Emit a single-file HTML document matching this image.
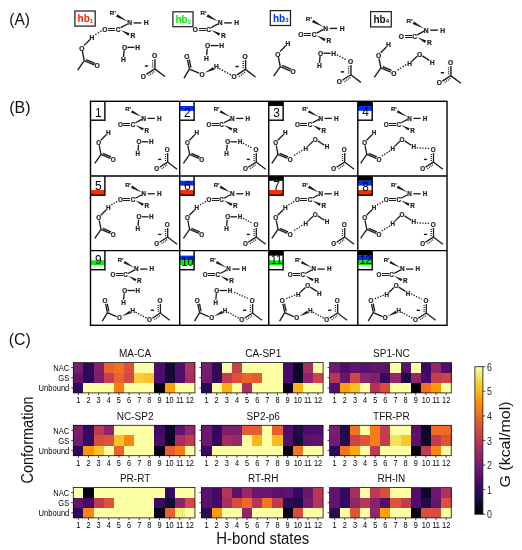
<!DOCTYPE html>
<html lang="en"><head><meta charset="utf-8"><title>H-bond states</title>
<style>html,body{margin:0;padding:0;background:#fff}svg{display:block}text{font-family:"Liberation Sans",Arial,Helvetica,sans-serif}</style></head><body>
<svg width="522" height="550" viewBox="0 0 522 550">
<rect width="522" height="550" fill="#fff"/>
<g font-size="17.3" fill="#111">
<text stroke="none" transform="translate(9.2 24.7) scale(0.9 1)">(A)</text>
<text stroke="none" transform="translate(9.2 113) scale(0.925 1)">(B)</text>
<text stroke="none" transform="translate(8.7 344.8) scale(0.92 1)">(C)</text>
</g>
<!-- Panel A -->
<g transform="translate(72.6 4.6) scale(1.06)">
<g stroke="#1c1c1c" fill="#20202a" stroke-linecap="butt" font-weight="bold" text-anchor="middle"><g transform="translate(0 0.4)"><text stroke="#20202a" stroke-width="0.22" x="38" y="9.72" font-size="5.9">R'</text><text stroke="#20202a" stroke-width="0.22" x="53.8" y="19.17" font-size="6.3">N</text><text stroke="#20202a" stroke-width="0.22" x="69.3" y="19.17" font-size="6.3">H</text><text stroke="#20202a" stroke-width="0.22" x="43" y="25.07" font-size="6.3">C</text><text stroke="#20202a" stroke-width="0.22" x="30.4" y="25.07" font-size="6.3">O</text><text stroke="#20202a" stroke-width="0.22" x="56.8" y="31.07" font-size="6.3">R</text><line x1="57.6" y1="16.9" x2="64.8" y2="16.9" stroke-width="1.3"/><polygon points="52,15.6 42.25,8.72 40.95,11.08" fill="#1c1c1c" stroke="none"/><line x1="45.4" y1="21.3" x2="51.8" y2="17.9" stroke-width="1.3"/><polygon points="45.4,23.6 52.55,29.08 53.85,26.72" fill="#1c1c1c" stroke="none"/><g shape-rendering="crispEdges"><line x1="33.4" y1="21.8" x2="40.2" y2="21.8" stroke-width="1"/><line x1="33.4" y1="23.8" x2="40.2" y2="23.8" stroke-width="1"/></g></g><text stroke="#20202a" stroke-width="0.22" x="18.2" y="33.17" font-size="6.3">H</text><text stroke="#20202a" stroke-width="0.22" x="8.8" y="43.47" font-size="6.3">O</text><text stroke="#20202a" stroke-width="0.22" x="23.2" y="60.17" font-size="6.3">O</text><line x1="10.8" y1="38.7" x2="16.2" y2="33.2" stroke-width="1.3"/><line x1="9.2" y1="43.9" x2="11" y2="52.9" stroke-width="1.3"/><line x1="11" y1="52.9" x2="4.8" y2="61.9" stroke-width="1.3"/><line x1="11" y1="52.9" x2="20.4" y2="56.9" stroke-width="1.3"/><line x1="12.79" y1="51.82" x2="21.07" y2="55.34" stroke-width="1.3"/><text stroke="#20202a" stroke-width="0.22" x="77.3" y="50.77" font-size="6.3">O</text><text stroke="#20202a" stroke-width="0.22" x="66.8" y="69.77" font-size="6.3">O</text><line x1="77.7" y1="51.5" x2="77.7" y2="60.6" stroke-width="1.3"/><line x1="75.5" y1="52.6" x2="75.5" y2="60" stroke-width="1.3" stroke-dasharray="0.95 1.0"/><line x1="77.5" y1="60.6" x2="69.6" y2="65.8" stroke-width="1.3"/><line x1="77.2" y1="63.2" x2="71.2" y2="67.5" stroke-width="1.3" stroke-dasharray="0.95 1.0"/><line x1="77.5" y1="60.6" x2="87.1" y2="67.8" stroke-width="1.3"/><line x1="68.1" y1="57.9" x2="71.3" y2="57.9" stroke-width="1.4"/><text stroke="#20202a" stroke-width="0.22" x="49" y="42.57" font-size="6.3">O</text><text stroke="#20202a" stroke-width="0.22" x="61.4" y="42.57" font-size="6.3">H</text><text stroke="#20202a" stroke-width="0.22" x="47.9" y="54.47" font-size="6.3">H</text><line x1="51.8" y1="40.3" x2="58.4" y2="40.3" stroke-width="1.3"/><line x1="48.6" y1="43.1" x2="48" y2="49.4" stroke-width="1.3"/><line x1="21.4" y1="28.4" x2="27.9" y2="24.5" stroke-width="1.35" stroke-dasharray="1.3 1.45"/></g>
</g>
<rect x="74.9" y="11" width="20.3" height="15.1" fill="#fff" stroke="#222" stroke-width="1.25"/>
<text stroke="none" x="85.35" y="22.2" font-size="10" font-weight="bold" fill="#ff1a00" text-anchor="middle">hb<tspan font-size="6" dy="0.5">1</tspan></text>
<g transform="translate(171.6 3.7) scale(1.06)">
<g stroke="#1c1c1c" fill="#20202a" stroke-linecap="butt" font-weight="bold" text-anchor="middle"><g transform="translate(-8 1.2)"><text stroke="#20202a" stroke-width="0.22" x="38" y="9.72" font-size="5.9">R'</text><text stroke="#20202a" stroke-width="0.22" x="53.8" y="19.17" font-size="6.3">N</text><text stroke="#20202a" stroke-width="0.22" x="69.3" y="19.17" font-size="6.3">H</text><text stroke="#20202a" stroke-width="0.22" x="43" y="25.07" font-size="6.3">C</text><text stroke="#20202a" stroke-width="0.22" x="30.4" y="25.07" font-size="6.3">O</text><text stroke="#20202a" stroke-width="0.22" x="56.8" y="31.07" font-size="6.3">R</text><line x1="57.6" y1="16.9" x2="64.8" y2="16.9" stroke-width="1.3"/><polygon points="52,15.6 42.25,8.72 40.95,11.08" fill="#1c1c1c" stroke="none"/><line x1="45.4" y1="21.3" x2="51.8" y2="17.9" stroke-width="1.3"/><polygon points="45.4,23.6 52.55,29.08 53.85,26.72" fill="#1c1c1c" stroke="none"/><g shape-rendering="crispEdges"><line x1="33.4" y1="21.8" x2="40.2" y2="21.8" stroke-width="1"/><line x1="33.4" y1="23.8" x2="40.2" y2="23.8" stroke-width="1"/></g></g><text stroke="#20202a" stroke-width="0.22" x="14.4" y="52.27" font-size="6.3">O</text><text stroke="#20202a" stroke-width="0.22" x="28.8" y="68.87" font-size="6.3">O</text><text stroke="#20202a" stroke-width="0.22" x="42.3" y="61.67" font-size="6.3">H</text><line x1="16.8" y1="61.7" x2="15" y2="52.9" stroke-width="1.3"/><line x1="18.25" y1="60.3" x2="16.67" y2="52.56" stroke-width="1.3"/><line x1="16.8" y1="61.7" x2="11.7" y2="70.2" stroke-width="1.3"/><line x1="16.8" y1="61.7" x2="26" y2="65.6" stroke-width="1.3"/><polygon points="31.3,65.2 40.46,62.34 39.14,59.66" fill="#1c1c1c" stroke="none"/><g transform="translate(-7.9 1.4)"><text stroke="#20202a" stroke-width="0.22" x="77.3" y="50.77" font-size="6.3">O</text><text stroke="#20202a" stroke-width="0.22" x="66.8" y="69.77" font-size="6.3">O</text><line x1="77.7" y1="51.5" x2="77.7" y2="60.6" stroke-width="1.3"/><line x1="75.5" y1="52.6" x2="75.5" y2="60" stroke-width="1.3" stroke-dasharray="0.95 1.0"/><line x1="77.5" y1="60.6" x2="69.6" y2="65.8" stroke-width="1.3"/><line x1="77.2" y1="63.2" x2="71.2" y2="67.5" stroke-width="1.3" stroke-dasharray="0.95 1.0"/><line x1="77.5" y1="60.6" x2="87.1" y2="67.8" stroke-width="1.3"/><line x1="68.1" y1="57.9" x2="71.3" y2="57.9" stroke-width="1.4"/></g><line x1="45" y1="61.2" x2="56.2" y2="67.3" stroke-width="1.35" stroke-dasharray="1.3 1.45"/><g transform="translate(-15 -0.8)"><text stroke="#20202a" stroke-width="0.22" x="49" y="42.57" font-size="6.3">O</text><text stroke="#20202a" stroke-width="0.22" x="62.3" y="42.57" font-size="6.3">H</text><text stroke="#20202a" stroke-width="0.22" x="47.9" y="54.47" font-size="6.3">H</text><line x1="51.8" y1="40.3" x2="59.3" y2="40.3" stroke-width="1.3"/><line x1="48.6" y1="43.1" x2="48" y2="49.4" stroke-width="1.3"/></g></g>
</g>
<rect x="172.9" y="11.8" width="20.1" height="14.9" fill="#fff" stroke="#222" stroke-width="1.25"/>
<text stroke="none" x="183.25" y="23" font-size="10" font-weight="bold" fill="#00f000" text-anchor="middle">hb<tspan font-size="6" dy="0.5">2</tspan></text>
<g transform="translate(268.6 10.5) scale(1.06)">
<g stroke="#1c1c1c" fill="#20202a" stroke-linecap="butt" font-weight="bold" text-anchor="middle"><g transform="translate(0 0)"><text stroke="#20202a" stroke-width="0.22" x="38" y="9.72" font-size="5.9">R'</text><text stroke="#20202a" stroke-width="0.22" x="53.8" y="19.17" font-size="6.3">N</text><text stroke="#20202a" stroke-width="0.22" x="69.3" y="19.17" font-size="6.3">H</text><text stroke="#20202a" stroke-width="0.22" x="43" y="25.07" font-size="6.3">C</text><text stroke="#20202a" stroke-width="0.22" x="30.4" y="25.07" font-size="6.3">O</text><text stroke="#20202a" stroke-width="0.22" x="56.8" y="31.07" font-size="6.3">R</text><line x1="57.6" y1="16.9" x2="64.8" y2="16.9" stroke-width="1.3"/><polygon points="52,15.6 42.25,8.72 40.95,11.08" fill="#1c1c1c" stroke="none"/><line x1="45.4" y1="21.3" x2="51.8" y2="17.9" stroke-width="1.3"/><polygon points="45.4,23.6 52.55,29.08 53.85,26.72" fill="#1c1c1c" stroke="none"/><g shape-rendering="crispEdges"><line x1="33.4" y1="21.8" x2="40.2" y2="21.8" stroke-width="1"/><line x1="33.4" y1="23.8" x2="40.2" y2="23.8" stroke-width="1"/></g></g><text stroke="#20202a" stroke-width="0.22" x="18.2" y="33.17" font-size="6.3">H</text><text stroke="#20202a" stroke-width="0.22" x="8.8" y="43.47" font-size="6.3">O</text><text stroke="#20202a" stroke-width="0.22" x="23.2" y="60.17" font-size="6.3">O</text><line x1="10.8" y1="38.7" x2="16.2" y2="33.2" stroke-width="1.3"/><line x1="9.2" y1="43.9" x2="11" y2="52.9" stroke-width="1.3"/><line x1="11" y1="52.9" x2="4.8" y2="61.9" stroke-width="1.3"/><line x1="11" y1="52.9" x2="20.4" y2="56.9" stroke-width="1.3"/><line x1="12.79" y1="51.82" x2="21.07" y2="55.34" stroke-width="1.3"/><text stroke="#20202a" stroke-width="0.22" x="77.3" y="50.77" font-size="6.3">O</text><text stroke="#20202a" stroke-width="0.22" x="66.8" y="69.77" font-size="6.3">O</text><line x1="77.7" y1="51.5" x2="77.7" y2="60.6" stroke-width="1.3"/><line x1="75.5" y1="52.6" x2="75.5" y2="60" stroke-width="1.3" stroke-dasharray="0.95 1.0"/><line x1="77.5" y1="60.6" x2="69.6" y2="65.8" stroke-width="1.3"/><line x1="77.2" y1="63.2" x2="71.2" y2="67.5" stroke-width="1.3" stroke-dasharray="0.95 1.0"/><line x1="77.5" y1="60.6" x2="87.1" y2="67.8" stroke-width="1.3"/><line x1="68.1" y1="57.9" x2="71.3" y2="57.9" stroke-width="1.4"/><text stroke="#20202a" stroke-width="0.22" x="49" y="42.57" font-size="6.3">O</text><text stroke="#20202a" stroke-width="0.22" x="61.4" y="42.57" font-size="6.3">H</text><text stroke="#20202a" stroke-width="0.22" x="47.9" y="54.47" font-size="6.3">H</text><line x1="51.8" y1="40.3" x2="58.4" y2="40.3" stroke-width="1.3"/><line x1="48.6" y1="43.1" x2="48" y2="49.4" stroke-width="1.3"/><line x1="64.4" y1="41.7" x2="73.2" y2="46.4" stroke-width="1.35" stroke-dasharray="1.3 1.45"/></g>
</g>
<rect x="270.3" y="10.6" width="20.2" height="14.9" fill="#fff" stroke="#222" stroke-width="1.25"/>
<text stroke="none" x="280.7" y="21.8" font-size="10" font-weight="bold" fill="#0030ff" text-anchor="middle">hb<tspan font-size="6" dy="0.5">3</tspan></text>
<g transform="translate(369.2 13.2) scale(1.06)">
<g stroke="#1c1c1c" fill="#20202a" stroke-linecap="butt" font-weight="bold" text-anchor="middle"><g transform="translate(0 -0.9)"><text stroke="#20202a" stroke-width="0.22" x="38" y="9.72" font-size="5.9">R'</text><text stroke="#20202a" stroke-width="0.22" x="53.8" y="19.17" font-size="6.3">N</text><text stroke="#20202a" stroke-width="0.22" x="69.3" y="19.17" font-size="6.3">H</text><text stroke="#20202a" stroke-width="0.22" x="43" y="25.07" font-size="6.3">C</text><text stroke="#20202a" stroke-width="0.22" x="30.4" y="25.07" font-size="6.3">O</text><text stroke="#20202a" stroke-width="0.22" x="56.8" y="31.07" font-size="6.3">R</text><line x1="57.6" y1="16.9" x2="64.8" y2="16.9" stroke-width="1.3"/><polygon points="52,15.6 42.25,8.72 40.95,11.08" fill="#1c1c1c" stroke="none"/><line x1="45.4" y1="21.3" x2="51.8" y2="17.9" stroke-width="1.3"/><polygon points="45.4,23.6 52.55,29.08 53.85,26.72" fill="#1c1c1c" stroke="none"/><g shape-rendering="crispEdges"><line x1="33.4" y1="21.8" x2="40.2" y2="21.8" stroke-width="1"/><line x1="33.4" y1="23.8" x2="40.2" y2="23.8" stroke-width="1"/></g></g><g transform="translate(0 -1.3)"><text stroke="#20202a" stroke-width="0.22" x="18.2" y="33.17" font-size="6.3">H</text><text stroke="#20202a" stroke-width="0.22" x="8.8" y="43.47" font-size="6.3">O</text><text stroke="#20202a" stroke-width="0.22" x="23.2" y="60.17" font-size="6.3">O</text><line x1="10.8" y1="38.7" x2="16.2" y2="33.2" stroke-width="1.3"/><line x1="9.2" y1="43.9" x2="11" y2="52.9" stroke-width="1.3"/><line x1="11" y1="52.9" x2="4.8" y2="61.9" stroke-width="1.3"/><line x1="11" y1="52.9" x2="20.4" y2="56.9" stroke-width="1.3"/><line x1="12.79" y1="51.82" x2="21.07" y2="55.34" stroke-width="1.3"/></g><g transform="translate(-0.6 -1.7)"><text stroke="#20202a" stroke-width="0.22" x="77.3" y="50.77" font-size="6.3">O</text><text stroke="#20202a" stroke-width="0.22" x="66.8" y="69.77" font-size="6.3">O</text><line x1="77.7" y1="51.5" x2="77.7" y2="60.6" stroke-width="1.3"/><line x1="75.5" y1="52.6" x2="75.5" y2="60" stroke-width="1.3" stroke-dasharray="0.95 1.0"/><line x1="77.5" y1="60.6" x2="69.6" y2="65.8" stroke-width="1.3"/><line x1="77.2" y1="63.2" x2="71.2" y2="67.5" stroke-width="1.3" stroke-dasharray="0.95 1.0"/><line x1="77.5" y1="60.6" x2="87.1" y2="67.8" stroke-width="1.3"/><line x1="68.1" y1="57.9" x2="71.3" y2="57.9" stroke-width="1.4"/></g><g transform="translate(0.3 0.8)"><text stroke="#20202a" stroke-width="0.22" x="47.2" y="40.07" font-size="6.3">O</text><text stroke="#20202a" stroke-width="0.22" x="37.9" y="49.07" font-size="6.3">H</text><text stroke="#20202a" stroke-width="0.22" x="59" y="47.97" font-size="6.3">H</text><line x1="45" y1="39.8" x2="40" y2="44.6" stroke-width="1.3"/><line x1="49.8" y1="39.4" x2="56.4" y2="43.7" stroke-width="1.3"/></g><g transform="translate(0.2 -0.3)"><line x1="34.8" y1="48.8" x2="25.4" y2="54.8" stroke-width="1.35" stroke-dasharray="1.3 1.45"/></g></g>
</g>
<rect x="370.6" y="11.6" width="20.7" height="15.3" fill="#fff" stroke="#222" stroke-width="1.25"/>
<text stroke="none" x="381.25" y="22.8" font-size="10" font-weight="bold" fill="#111111" text-anchor="middle">hb<tspan font-size="6" dy="0.5">4</tspan></text>
<!-- Panel B -->
<g transform="translate(90 101.5)">
<g stroke="#1c1c1c" fill="#20202a" stroke-linecap="butt" font-weight="bold" text-anchor="middle"><g transform="translate(0 0)"><text stroke="#20202a" stroke-width="0.22" x="38" y="9.72" font-size="5.9">R'</text><text stroke="#20202a" stroke-width="0.22" x="53.8" y="19.17" font-size="6.3">N</text><text stroke="#20202a" stroke-width="0.22" x="69.3" y="19.17" font-size="6.3">H</text><text stroke="#20202a" stroke-width="0.22" x="43" y="25.07" font-size="6.3">C</text><text stroke="#20202a" stroke-width="0.22" x="30.4" y="25.07" font-size="6.3">O</text><text stroke="#20202a" stroke-width="0.22" x="56.8" y="31.07" font-size="6.3">R</text><line x1="57.6" y1="16.9" x2="64.8" y2="16.9" stroke-width="1.3"/><polygon points="52,15.6 42.25,8.72 40.95,11.08" fill="#1c1c1c" stroke="none"/><line x1="45.4" y1="21.3" x2="51.8" y2="17.9" stroke-width="1.3"/><polygon points="45.4,23.6 52.55,29.08 53.85,26.72" fill="#1c1c1c" stroke="none"/><g shape-rendering="crispEdges"><line x1="33.4" y1="21.8" x2="40.2" y2="21.8" stroke-width="1"/><line x1="33.4" y1="23.8" x2="40.2" y2="23.8" stroke-width="1"/></g></g><text stroke="#20202a" stroke-width="0.22" x="18.2" y="33.17" font-size="6.3">H</text><text stroke="#20202a" stroke-width="0.22" x="8.8" y="43.47" font-size="6.3">O</text><text stroke="#20202a" stroke-width="0.22" x="23.2" y="60.17" font-size="6.3">O</text><line x1="10.8" y1="38.7" x2="16.2" y2="33.2" stroke-width="1.3"/><line x1="9.2" y1="43.9" x2="11" y2="52.9" stroke-width="1.3"/><line x1="11" y1="52.9" x2="4.8" y2="61.9" stroke-width="1.3"/><line x1="11" y1="52.9" x2="20.4" y2="56.9" stroke-width="1.3"/><line x1="12.79" y1="51.82" x2="21.07" y2="55.34" stroke-width="1.3"/><text stroke="#20202a" stroke-width="0.22" x="77.3" y="50.77" font-size="6.3">O</text><text stroke="#20202a" stroke-width="0.22" x="66.8" y="69.77" font-size="6.3">O</text><line x1="77.7" y1="51.5" x2="77.7" y2="60.6" stroke-width="1.3"/><line x1="75.5" y1="52.6" x2="75.5" y2="60" stroke-width="1.3" stroke-dasharray="0.95 1.0"/><line x1="77.5" y1="60.6" x2="69.6" y2="65.8" stroke-width="1.3"/><line x1="77.2" y1="63.2" x2="71.2" y2="67.5" stroke-width="1.3" stroke-dasharray="0.95 1.0"/><line x1="77.5" y1="60.6" x2="87.1" y2="67.8" stroke-width="1.3"/><line x1="68.1" y1="57.9" x2="71.3" y2="57.9" stroke-width="1.4"/><text stroke="#20202a" stroke-width="0.22" x="49" y="42.57" font-size="6.3">O</text><text stroke="#20202a" stroke-width="0.22" x="61.4" y="42.57" font-size="6.3">H</text><text stroke="#20202a" stroke-width="0.22" x="47.9" y="54.47" font-size="6.3">H</text><line x1="51.8" y1="40.3" x2="58.4" y2="40.3" stroke-width="1.3"/><line x1="48.6" y1="43.1" x2="48" y2="49.4" stroke-width="1.3"/></g>
</g>
<rect x="90.5" y="101.3" width="14.4" height="18.9" fill="#fff"/>
<g stroke="#000"><line x1="104.9" y1="101.3" x2="104.9" y2="120.9" stroke-width="1.4"/><line x1="90.5" y1="120.2" x2="104.9" y2="120.2" stroke-width="1.4"/></g>
<text stroke="none" x="98.2" y="116.5" font-size="11.9" fill="#000" text-anchor="middle">1</text>
<g transform="translate(178.6 101.5)">
<g stroke="#1c1c1c" fill="#20202a" stroke-linecap="butt" font-weight="bold" text-anchor="middle"><g transform="translate(0 0)"><text stroke="#20202a" stroke-width="0.22" x="38" y="9.72" font-size="5.9">R'</text><text stroke="#20202a" stroke-width="0.22" x="53.8" y="19.17" font-size="6.3">N</text><text stroke="#20202a" stroke-width="0.22" x="69.3" y="19.17" font-size="6.3">H</text><text stroke="#20202a" stroke-width="0.22" x="43" y="25.07" font-size="6.3">C</text><text stroke="#20202a" stroke-width="0.22" x="30.4" y="25.07" font-size="6.3">O</text><text stroke="#20202a" stroke-width="0.22" x="56.8" y="31.07" font-size="6.3">R</text><line x1="57.6" y1="16.9" x2="64.8" y2="16.9" stroke-width="1.3"/><polygon points="52,15.6 42.25,8.72 40.95,11.08" fill="#1c1c1c" stroke="none"/><line x1="45.4" y1="21.3" x2="51.8" y2="17.9" stroke-width="1.3"/><polygon points="45.4,23.6 52.55,29.08 53.85,26.72" fill="#1c1c1c" stroke="none"/><g shape-rendering="crispEdges"><line x1="33.4" y1="21.8" x2="40.2" y2="21.8" stroke-width="1"/><line x1="33.4" y1="23.8" x2="40.2" y2="23.8" stroke-width="1"/></g></g><text stroke="#20202a" stroke-width="0.22" x="18.2" y="33.17" font-size="6.3">H</text><text stroke="#20202a" stroke-width="0.22" x="8.8" y="43.47" font-size="6.3">O</text><text stroke="#20202a" stroke-width="0.22" x="23.2" y="60.17" font-size="6.3">O</text><line x1="10.8" y1="38.7" x2="16.2" y2="33.2" stroke-width="1.3"/><line x1="9.2" y1="43.9" x2="11" y2="52.9" stroke-width="1.3"/><line x1="11" y1="52.9" x2="4.8" y2="61.9" stroke-width="1.3"/><line x1="11" y1="52.9" x2="20.4" y2="56.9" stroke-width="1.3"/><line x1="12.79" y1="51.82" x2="21.07" y2="55.34" stroke-width="1.3"/><text stroke="#20202a" stroke-width="0.22" x="77.3" y="50.77" font-size="6.3">O</text><text stroke="#20202a" stroke-width="0.22" x="66.8" y="69.77" font-size="6.3">O</text><line x1="77.7" y1="51.5" x2="77.7" y2="60.6" stroke-width="1.3"/><line x1="75.5" y1="52.6" x2="75.5" y2="60" stroke-width="1.3" stroke-dasharray="0.95 1.0"/><line x1="77.5" y1="60.6" x2="69.6" y2="65.8" stroke-width="1.3"/><line x1="77.2" y1="63.2" x2="71.2" y2="67.5" stroke-width="1.3" stroke-dasharray="0.95 1.0"/><line x1="77.5" y1="60.6" x2="87.1" y2="67.8" stroke-width="1.3"/><line x1="68.1" y1="57.9" x2="71.3" y2="57.9" stroke-width="1.4"/><text stroke="#20202a" stroke-width="0.22" x="49" y="42.57" font-size="6.3">O</text><text stroke="#20202a" stroke-width="0.22" x="61.4" y="42.57" font-size="6.3">H</text><text stroke="#20202a" stroke-width="0.22" x="47.9" y="54.47" font-size="6.3">H</text><line x1="51.8" y1="40.3" x2="58.4" y2="40.3" stroke-width="1.3"/><line x1="48.6" y1="43.1" x2="48" y2="49.4" stroke-width="1.3"/><line x1="64.4" y1="41.7" x2="73.2" y2="46.4" stroke-width="1.35" stroke-dasharray="1.3 1.45"/></g>
</g>
<rect x="179.7" y="101.3" width="14.4" height="18.9" fill="#fff"/>
<rect x="179.7" y="106" width="14.4" height="4.85" fill="#0030ff"/>
<g stroke="#000"><line x1="194.1" y1="101.3" x2="194.1" y2="120.9" stroke-width="1.4"/><line x1="179.7" y1="120.2" x2="194.1" y2="120.2" stroke-width="1.4"/></g>
<text stroke="none" x="187.4" y="116.5" font-size="11.9" fill="#000" text-anchor="middle">2</text>
<g transform="translate(267 101.5)">
<g stroke="#1c1c1c" fill="#20202a" stroke-linecap="butt" font-weight="bold" text-anchor="middle"><g transform="translate(0 0)"><text stroke="#20202a" stroke-width="0.22" x="38" y="9.72" font-size="5.9">R'</text><text stroke="#20202a" stroke-width="0.22" x="53.8" y="19.17" font-size="6.3">N</text><text stroke="#20202a" stroke-width="0.22" x="69.3" y="19.17" font-size="6.3">H</text><text stroke="#20202a" stroke-width="0.22" x="43" y="25.07" font-size="6.3">C</text><text stroke="#20202a" stroke-width="0.22" x="30.4" y="25.07" font-size="6.3">O</text><text stroke="#20202a" stroke-width="0.22" x="56.8" y="31.07" font-size="6.3">R</text><line x1="57.6" y1="16.9" x2="64.8" y2="16.9" stroke-width="1.3"/><polygon points="52,15.6 42.25,8.72 40.95,11.08" fill="#1c1c1c" stroke="none"/><line x1="45.4" y1="21.3" x2="51.8" y2="17.9" stroke-width="1.3"/><polygon points="45.4,23.6 52.55,29.08 53.85,26.72" fill="#1c1c1c" stroke="none"/><g shape-rendering="crispEdges"><line x1="33.4" y1="21.8" x2="40.2" y2="21.8" stroke-width="1"/><line x1="33.4" y1="23.8" x2="40.2" y2="23.8" stroke-width="1"/></g></g><text stroke="#20202a" stroke-width="0.22" x="18.2" y="33.17" font-size="6.3">H</text><text stroke="#20202a" stroke-width="0.22" x="8.8" y="43.47" font-size="6.3">O</text><text stroke="#20202a" stroke-width="0.22" x="23.2" y="60.17" font-size="6.3">O</text><line x1="10.8" y1="38.7" x2="16.2" y2="33.2" stroke-width="1.3"/><line x1="9.2" y1="43.9" x2="11" y2="52.9" stroke-width="1.3"/><line x1="11" y1="52.9" x2="4.8" y2="61.9" stroke-width="1.3"/><line x1="11" y1="52.9" x2="20.4" y2="56.9" stroke-width="1.3"/><line x1="12.79" y1="51.82" x2="21.07" y2="55.34" stroke-width="1.3"/><text stroke="#20202a" stroke-width="0.22" x="77.3" y="50.77" font-size="6.3">O</text><text stroke="#20202a" stroke-width="0.22" x="66.8" y="69.77" font-size="6.3">O</text><line x1="77.7" y1="51.5" x2="77.7" y2="60.6" stroke-width="1.3"/><line x1="75.5" y1="52.6" x2="75.5" y2="60" stroke-width="1.3" stroke-dasharray="0.95 1.0"/><line x1="77.5" y1="60.6" x2="69.6" y2="65.8" stroke-width="1.3"/><line x1="77.2" y1="63.2" x2="71.2" y2="67.5" stroke-width="1.3" stroke-dasharray="0.95 1.0"/><line x1="77.5" y1="60.6" x2="87.1" y2="67.8" stroke-width="1.3"/><g transform="translate(1 0)"><text stroke="#20202a" stroke-width="0.22" x="47.2" y="40.07" font-size="6.3">O</text><text stroke="#20202a" stroke-width="0.22" x="37.9" y="49.07" font-size="6.3">H</text><text stroke="#20202a" stroke-width="0.22" x="59" y="47.97" font-size="6.3">H</text><line x1="45" y1="39.8" x2="40" y2="44.6" stroke-width="1.3"/><line x1="49.8" y1="39.4" x2="56.4" y2="43.7" stroke-width="1.3"/></g><g transform="translate(0.5 0)"><line x1="34.8" y1="48.8" x2="25.4" y2="54.8" stroke-width="1.35" stroke-dasharray="1.3 1.45"/></g></g>
</g>
<rect x="268.75" y="101.3" width="14.4" height="18.9" fill="#fff"/>
<rect x="268.75" y="101.3" width="14.4" height="4.75" fill="#000"/>
<g stroke="#000"><line x1="283.15" y1="101.3" x2="283.15" y2="120.9" stroke-width="1.4"/><line x1="268.75" y1="120.2" x2="283.15" y2="120.2" stroke-width="1.4"/></g>
<text stroke="none" x="276.45" y="116.7" font-size="11.9" fill="#000" text-anchor="middle">3</text>
<g transform="translate(355.8 101.5)">
<g stroke="#1c1c1c" fill="#20202a" stroke-linecap="butt" font-weight="bold" text-anchor="middle"><g transform="translate(0 0)"><text stroke="#20202a" stroke-width="0.22" x="38" y="9.72" font-size="5.9">R'</text><text stroke="#20202a" stroke-width="0.22" x="53.8" y="19.17" font-size="6.3">N</text><text stroke="#20202a" stroke-width="0.22" x="69.3" y="19.17" font-size="6.3">H</text><text stroke="#20202a" stroke-width="0.22" x="43" y="25.07" font-size="6.3">C</text><text stroke="#20202a" stroke-width="0.22" x="30.4" y="25.07" font-size="6.3">O</text><text stroke="#20202a" stroke-width="0.22" x="56.8" y="31.07" font-size="6.3">R</text><line x1="57.6" y1="16.9" x2="64.8" y2="16.9" stroke-width="1.3"/><polygon points="52,15.6 42.25,8.72 40.95,11.08" fill="#1c1c1c" stroke="none"/><line x1="45.4" y1="21.3" x2="51.8" y2="17.9" stroke-width="1.3"/><polygon points="45.4,23.6 52.55,29.08 53.85,26.72" fill="#1c1c1c" stroke="none"/><g shape-rendering="crispEdges"><line x1="33.4" y1="21.8" x2="40.2" y2="21.8" stroke-width="1"/><line x1="33.4" y1="23.8" x2="40.2" y2="23.8" stroke-width="1"/></g></g><text stroke="#20202a" stroke-width="0.22" x="18.2" y="33.17" font-size="6.3">H</text><text stroke="#20202a" stroke-width="0.22" x="8.8" y="43.47" font-size="6.3">O</text><text stroke="#20202a" stroke-width="0.22" x="23.2" y="60.17" font-size="6.3">O</text><line x1="10.8" y1="38.7" x2="16.2" y2="33.2" stroke-width="1.3"/><line x1="9.2" y1="43.9" x2="11" y2="52.9" stroke-width="1.3"/><line x1="11" y1="52.9" x2="4.8" y2="61.9" stroke-width="1.3"/><line x1="11" y1="52.9" x2="20.4" y2="56.9" stroke-width="1.3"/><line x1="12.79" y1="51.82" x2="21.07" y2="55.34" stroke-width="1.3"/><text stroke="#20202a" stroke-width="0.22" x="77.3" y="50.77" font-size="6.3">O</text><text stroke="#20202a" stroke-width="0.22" x="66.8" y="69.77" font-size="6.3">O</text><line x1="77.7" y1="51.5" x2="77.7" y2="60.6" stroke-width="1.3"/><line x1="75.5" y1="52.6" x2="75.5" y2="60" stroke-width="1.3" stroke-dasharray="0.95 1.0"/><line x1="77.5" y1="60.6" x2="69.6" y2="65.8" stroke-width="1.3"/><line x1="77.2" y1="63.2" x2="71.2" y2="67.5" stroke-width="1.3" stroke-dasharray="0.95 1.0"/><line x1="77.5" y1="60.6" x2="87.1" y2="67.8" stroke-width="1.3"/><line x1="68.1" y1="57.9" x2="71.3" y2="57.9" stroke-width="1.4"/><g transform="translate(-1 0)"><text stroke="#20202a" stroke-width="0.22" x="47.2" y="40.07" font-size="6.3">O</text><text stroke="#20202a" stroke-width="0.22" x="37.9" y="49.07" font-size="6.3">H</text><text stroke="#20202a" stroke-width="0.22" x="59" y="47.97" font-size="6.3">H</text><line x1="45" y1="39.8" x2="40" y2="44.6" stroke-width="1.3"/><line x1="49.8" y1="39.4" x2="56.4" y2="43.7" stroke-width="1.3"/></g><g transform="translate(-0.7 0.6)"><line x1="34.8" y1="48.8" x2="25.4" y2="54.8" stroke-width="1.35" stroke-dasharray="1.3 1.45"/></g><g transform="translate(-1 0)"><line x1="62" y1="46.3" x2="74.4" y2="46.9" stroke-width="1.35" stroke-dasharray="1.3 1.45"/></g></g>
</g>
<rect x="357.8" y="101.3" width="14.4" height="18.9" fill="#fff"/>
<rect x="357.8" y="101.3" width="14.4" height="4.75" fill="#000"/>
<rect x="357.8" y="106" width="14.4" height="4.85" fill="#0030ff"/>
<g stroke="#000"><line x1="372.2" y1="101.3" x2="372.2" y2="120.9" stroke-width="1.4"/><line x1="357.8" y1="120.2" x2="372.2" y2="120.2" stroke-width="1.4"/></g>
<text stroke="none" x="365.5" y="116.3" font-size="11.9" fill="#000" text-anchor="middle">4</text>
<g transform="translate(90 176.5)">
<g stroke="#1c1c1c" fill="#20202a" stroke-linecap="butt" font-weight="bold" text-anchor="middle"><g transform="translate(0 0.4)"><text stroke="#20202a" stroke-width="0.22" x="38" y="9.72" font-size="5.9">R'</text><text stroke="#20202a" stroke-width="0.22" x="53.8" y="19.17" font-size="6.3">N</text><text stroke="#20202a" stroke-width="0.22" x="69.3" y="19.17" font-size="6.3">H</text><text stroke="#20202a" stroke-width="0.22" x="43" y="25.07" font-size="6.3">C</text><text stroke="#20202a" stroke-width="0.22" x="30.4" y="25.07" font-size="6.3">O</text><text stroke="#20202a" stroke-width="0.22" x="56.8" y="31.07" font-size="6.3">R</text><line x1="57.6" y1="16.9" x2="64.8" y2="16.9" stroke-width="1.3"/><polygon points="52,15.6 42.25,8.72 40.95,11.08" fill="#1c1c1c" stroke="none"/><line x1="45.4" y1="21.3" x2="51.8" y2="17.9" stroke-width="1.3"/><polygon points="45.4,23.6 52.55,29.08 53.85,26.72" fill="#1c1c1c" stroke="none"/><g shape-rendering="crispEdges"><line x1="33.4" y1="21.8" x2="40.2" y2="21.8" stroke-width="1"/><line x1="33.4" y1="23.8" x2="40.2" y2="23.8" stroke-width="1"/></g></g><text stroke="#20202a" stroke-width="0.22" x="18.2" y="33.17" font-size="6.3">H</text><text stroke="#20202a" stroke-width="0.22" x="8.8" y="43.47" font-size="6.3">O</text><text stroke="#20202a" stroke-width="0.22" x="23.2" y="60.17" font-size="6.3">O</text><line x1="10.8" y1="38.7" x2="16.2" y2="33.2" stroke-width="1.3"/><line x1="9.2" y1="43.9" x2="11" y2="52.9" stroke-width="1.3"/><line x1="11" y1="52.9" x2="4.8" y2="61.9" stroke-width="1.3"/><line x1="11" y1="52.9" x2="20.4" y2="56.9" stroke-width="1.3"/><line x1="12.79" y1="51.82" x2="21.07" y2="55.34" stroke-width="1.3"/><text stroke="#20202a" stroke-width="0.22" x="77.3" y="50.77" font-size="6.3">O</text><text stroke="#20202a" stroke-width="0.22" x="66.8" y="69.77" font-size="6.3">O</text><line x1="77.7" y1="51.5" x2="77.7" y2="60.6" stroke-width="1.3"/><line x1="75.5" y1="52.6" x2="75.5" y2="60" stroke-width="1.3" stroke-dasharray="0.95 1.0"/><line x1="77.5" y1="60.6" x2="69.6" y2="65.8" stroke-width="1.3"/><line x1="77.2" y1="63.2" x2="71.2" y2="67.5" stroke-width="1.3" stroke-dasharray="0.95 1.0"/><line x1="77.5" y1="60.6" x2="87.1" y2="67.8" stroke-width="1.3"/><line x1="68.1" y1="57.9" x2="71.3" y2="57.9" stroke-width="1.4"/><text stroke="#20202a" stroke-width="0.22" x="49" y="42.57" font-size="6.3">O</text><text stroke="#20202a" stroke-width="0.22" x="61.4" y="42.57" font-size="6.3">H</text><text stroke="#20202a" stroke-width="0.22" x="47.9" y="54.47" font-size="6.3">H</text><line x1="51.8" y1="40.3" x2="58.4" y2="40.3" stroke-width="1.3"/><line x1="48.6" y1="43.1" x2="48" y2="49.4" stroke-width="1.3"/><line x1="21.4" y1="28.4" x2="27.9" y2="24.5" stroke-width="1.35" stroke-dasharray="1.3 1.45"/></g>
</g>
<rect x="90.5" y="176.05" width="14.4" height="19.1" fill="#fff"/>
<rect x="90.5" y="190.05" width="14.4" height="5.15" fill="#ff2a00"/>
<g stroke="#000"><line x1="104.9" y1="176.05" x2="104.9" y2="195.85" stroke-width="1.4"/><line x1="90.5" y1="195.15" x2="104.9" y2="195.15" stroke-width="1.4"/></g>
<text stroke="none" x="98.2" y="189.85" font-size="11.9" fill="#000" text-anchor="middle">5</text>
<g transform="translate(178.6 176.5)">
<g stroke="#1c1c1c" fill="#20202a" stroke-linecap="butt" font-weight="bold" text-anchor="middle"><g transform="translate(0 0.4)"><text stroke="#20202a" stroke-width="0.22" x="38" y="9.72" font-size="5.9">R'</text><text stroke="#20202a" stroke-width="0.22" x="53.8" y="19.17" font-size="6.3">N</text><text stroke="#20202a" stroke-width="0.22" x="69.3" y="19.17" font-size="6.3">H</text><text stroke="#20202a" stroke-width="0.22" x="43" y="25.07" font-size="6.3">C</text><text stroke="#20202a" stroke-width="0.22" x="30.4" y="25.07" font-size="6.3">O</text><text stroke="#20202a" stroke-width="0.22" x="56.8" y="31.07" font-size="6.3">R</text><line x1="57.6" y1="16.9" x2="64.8" y2="16.9" stroke-width="1.3"/><polygon points="52,15.6 42.25,8.72 40.95,11.08" fill="#1c1c1c" stroke="none"/><line x1="45.4" y1="21.3" x2="51.8" y2="17.9" stroke-width="1.3"/><polygon points="45.4,23.6 52.55,29.08 53.85,26.72" fill="#1c1c1c" stroke="none"/><g shape-rendering="crispEdges"><line x1="33.4" y1="21.8" x2="40.2" y2="21.8" stroke-width="1"/><line x1="33.4" y1="23.8" x2="40.2" y2="23.8" stroke-width="1"/></g></g><text stroke="#20202a" stroke-width="0.22" x="18.2" y="33.17" font-size="6.3">H</text><text stroke="#20202a" stroke-width="0.22" x="8.8" y="43.47" font-size="6.3">O</text><text stroke="#20202a" stroke-width="0.22" x="23.2" y="60.17" font-size="6.3">O</text><line x1="10.8" y1="38.7" x2="16.2" y2="33.2" stroke-width="1.3"/><line x1="9.2" y1="43.9" x2="11" y2="52.9" stroke-width="1.3"/><line x1="11" y1="52.9" x2="4.8" y2="61.9" stroke-width="1.3"/><line x1="11" y1="52.9" x2="20.4" y2="56.9" stroke-width="1.3"/><line x1="12.79" y1="51.82" x2="21.07" y2="55.34" stroke-width="1.3"/><text stroke="#20202a" stroke-width="0.22" x="77.3" y="50.77" font-size="6.3">O</text><text stroke="#20202a" stroke-width="0.22" x="66.8" y="69.77" font-size="6.3">O</text><line x1="77.7" y1="51.5" x2="77.7" y2="60.6" stroke-width="1.3"/><line x1="75.5" y1="52.6" x2="75.5" y2="60" stroke-width="1.3" stroke-dasharray="0.95 1.0"/><line x1="77.5" y1="60.6" x2="69.6" y2="65.8" stroke-width="1.3"/><line x1="77.2" y1="63.2" x2="71.2" y2="67.5" stroke-width="1.3" stroke-dasharray="0.95 1.0"/><line x1="77.5" y1="60.6" x2="87.1" y2="67.8" stroke-width="1.3"/><line x1="68.1" y1="57.9" x2="71.3" y2="57.9" stroke-width="1.4"/><text stroke="#20202a" stroke-width="0.22" x="49" y="42.57" font-size="6.3">O</text><text stroke="#20202a" stroke-width="0.22" x="61.4" y="42.57" font-size="6.3">H</text><text stroke="#20202a" stroke-width="0.22" x="47.9" y="54.47" font-size="6.3">H</text><line x1="51.8" y1="40.3" x2="58.4" y2="40.3" stroke-width="1.3"/><line x1="48.6" y1="43.1" x2="48" y2="49.4" stroke-width="1.3"/><line x1="64.4" y1="41.7" x2="73.2" y2="46.4" stroke-width="1.35" stroke-dasharray="1.3 1.45"/><line x1="21.4" y1="28.4" x2="27.9" y2="24.5" stroke-width="1.35" stroke-dasharray="1.3 1.45"/></g>
</g>
<rect x="179.7" y="176.05" width="14.4" height="19.1" fill="#fff"/>
<rect x="179.7" y="180.75" width="14.4" height="4.85" fill="#0030ff"/>
<rect x="179.7" y="190.05" width="14.4" height="5.15" fill="#ff2a00"/>
<g stroke="#000"><line x1="194.1" y1="176.05" x2="194.1" y2="195.85" stroke-width="1.4"/><line x1="179.7" y1="195.15" x2="194.1" y2="195.15" stroke-width="1.4"/></g>
<text stroke="none" x="187.4" y="189.85" font-size="11.9" fill="#000" text-anchor="middle">6</text>
<g transform="translate(267 176.5)">
<g stroke="#1c1c1c" fill="#20202a" stroke-linecap="butt" font-weight="bold" text-anchor="middle"><g transform="translate(0 0.4)"><text stroke="#20202a" stroke-width="0.22" x="38" y="9.72" font-size="5.9">R'</text><text stroke="#20202a" stroke-width="0.22" x="53.8" y="19.17" font-size="6.3">N</text><text stroke="#20202a" stroke-width="0.22" x="69.3" y="19.17" font-size="6.3">H</text><text stroke="#20202a" stroke-width="0.22" x="43" y="25.07" font-size="6.3">C</text><text stroke="#20202a" stroke-width="0.22" x="30.4" y="25.07" font-size="6.3">O</text><text stroke="#20202a" stroke-width="0.22" x="56.8" y="31.07" font-size="6.3">R</text><line x1="57.6" y1="16.9" x2="64.8" y2="16.9" stroke-width="1.3"/><polygon points="52,15.6 42.25,8.72 40.95,11.08" fill="#1c1c1c" stroke="none"/><line x1="45.4" y1="21.3" x2="51.8" y2="17.9" stroke-width="1.3"/><polygon points="45.4,23.6 52.55,29.08 53.85,26.72" fill="#1c1c1c" stroke="none"/><g shape-rendering="crispEdges"><line x1="33.4" y1="21.8" x2="40.2" y2="21.8" stroke-width="1"/><line x1="33.4" y1="23.8" x2="40.2" y2="23.8" stroke-width="1"/></g></g><text stroke="#20202a" stroke-width="0.22" x="18.2" y="33.17" font-size="6.3">H</text><text stroke="#20202a" stroke-width="0.22" x="8.8" y="43.47" font-size="6.3">O</text><text stroke="#20202a" stroke-width="0.22" x="23.2" y="60.17" font-size="6.3">O</text><line x1="10.8" y1="38.7" x2="16.2" y2="33.2" stroke-width="1.3"/><line x1="9.2" y1="43.9" x2="11" y2="52.9" stroke-width="1.3"/><line x1="11" y1="52.9" x2="4.8" y2="61.9" stroke-width="1.3"/><line x1="11" y1="52.9" x2="20.4" y2="56.9" stroke-width="1.3"/><line x1="12.79" y1="51.82" x2="21.07" y2="55.34" stroke-width="1.3"/><text stroke="#20202a" stroke-width="0.22" x="77.3" y="50.77" font-size="6.3">O</text><text stroke="#20202a" stroke-width="0.22" x="66.8" y="69.77" font-size="6.3">O</text><line x1="77.7" y1="51.5" x2="77.7" y2="60.6" stroke-width="1.3"/><line x1="75.5" y1="52.6" x2="75.5" y2="60" stroke-width="1.3" stroke-dasharray="0.95 1.0"/><line x1="77.5" y1="60.6" x2="69.6" y2="65.8" stroke-width="1.3"/><line x1="77.2" y1="63.2" x2="71.2" y2="67.5" stroke-width="1.3" stroke-dasharray="0.95 1.0"/><line x1="77.5" y1="60.6" x2="87.1" y2="67.8" stroke-width="1.3"/><g transform="translate(1 0)"><text stroke="#20202a" stroke-width="0.22" x="47.2" y="40.07" font-size="6.3">O</text><text stroke="#20202a" stroke-width="0.22" x="37.9" y="49.07" font-size="6.3">H</text><text stroke="#20202a" stroke-width="0.22" x="59" y="47.97" font-size="6.3">H</text><line x1="45" y1="39.8" x2="40" y2="44.6" stroke-width="1.3"/><line x1="49.8" y1="39.4" x2="56.4" y2="43.7" stroke-width="1.3"/></g><g transform="translate(0.5 0)"><line x1="34.8" y1="48.8" x2="25.4" y2="54.8" stroke-width="1.35" stroke-dasharray="1.3 1.45"/></g><line x1="21.4" y1="28.4" x2="27.9" y2="24.5" stroke-width="1.35" stroke-dasharray="1.3 1.45"/></g>
</g>
<rect x="268.75" y="176.05" width="14.4" height="19.1" fill="#fff"/>
<rect x="268.75" y="176.05" width="14.4" height="4.75" fill="#000"/>
<rect x="268.75" y="190.05" width="14.4" height="5.15" fill="#ff2a00"/>
<g stroke="#000"><line x1="283.15" y1="176.05" x2="283.15" y2="195.85" stroke-width="1.4"/><line x1="268.75" y1="195.15" x2="283.15" y2="195.15" stroke-width="1.4"/></g>
<text stroke="none" x="276.45" y="190.35" font-size="11.9" fill="#000" text-anchor="middle">7</text>
<g transform="translate(355.8 176.5)">
<g stroke="#1c1c1c" fill="#20202a" stroke-linecap="butt" font-weight="bold" text-anchor="middle"><g transform="translate(0 0.4)"><text stroke="#20202a" stroke-width="0.22" x="38" y="9.72" font-size="5.9">R'</text><text stroke="#20202a" stroke-width="0.22" x="53.8" y="19.17" font-size="6.3">N</text><text stroke="#20202a" stroke-width="0.22" x="69.3" y="19.17" font-size="6.3">H</text><text stroke="#20202a" stroke-width="0.22" x="43" y="25.07" font-size="6.3">C</text><text stroke="#20202a" stroke-width="0.22" x="30.4" y="25.07" font-size="6.3">O</text><text stroke="#20202a" stroke-width="0.22" x="56.8" y="31.07" font-size="6.3">R</text><line x1="57.6" y1="16.9" x2="64.8" y2="16.9" stroke-width="1.3"/><polygon points="52,15.6 42.25,8.72 40.95,11.08" fill="#1c1c1c" stroke="none"/><line x1="45.4" y1="21.3" x2="51.8" y2="17.9" stroke-width="1.3"/><polygon points="45.4,23.6 52.55,29.08 53.85,26.72" fill="#1c1c1c" stroke="none"/><g shape-rendering="crispEdges"><line x1="33.4" y1="21.8" x2="40.2" y2="21.8" stroke-width="1"/><line x1="33.4" y1="23.8" x2="40.2" y2="23.8" stroke-width="1"/></g></g><text stroke="#20202a" stroke-width="0.22" x="18.2" y="33.17" font-size="6.3">H</text><text stroke="#20202a" stroke-width="0.22" x="8.8" y="43.47" font-size="6.3">O</text><text stroke="#20202a" stroke-width="0.22" x="23.2" y="60.17" font-size="6.3">O</text><line x1="10.8" y1="38.7" x2="16.2" y2="33.2" stroke-width="1.3"/><line x1="9.2" y1="43.9" x2="11" y2="52.9" stroke-width="1.3"/><line x1="11" y1="52.9" x2="4.8" y2="61.9" stroke-width="1.3"/><line x1="11" y1="52.9" x2="20.4" y2="56.9" stroke-width="1.3"/><line x1="12.79" y1="51.82" x2="21.07" y2="55.34" stroke-width="1.3"/><text stroke="#20202a" stroke-width="0.22" x="77.3" y="50.77" font-size="6.3">O</text><text stroke="#20202a" stroke-width="0.22" x="66.8" y="69.77" font-size="6.3">O</text><line x1="77.7" y1="51.5" x2="77.7" y2="60.6" stroke-width="1.3"/><line x1="75.5" y1="52.6" x2="75.5" y2="60" stroke-width="1.3" stroke-dasharray="0.95 1.0"/><line x1="77.5" y1="60.6" x2="69.6" y2="65.8" stroke-width="1.3"/><line x1="77.2" y1="63.2" x2="71.2" y2="67.5" stroke-width="1.3" stroke-dasharray="0.95 1.0"/><line x1="77.5" y1="60.6" x2="87.1" y2="67.8" stroke-width="1.3"/><line x1="68.1" y1="57.9" x2="71.3" y2="57.9" stroke-width="1.4"/><g transform="translate(-1 0)"><text stroke="#20202a" stroke-width="0.22" x="47.2" y="40.07" font-size="6.3">O</text><text stroke="#20202a" stroke-width="0.22" x="37.9" y="49.07" font-size="6.3">H</text><text stroke="#20202a" stroke-width="0.22" x="59" y="47.97" font-size="6.3">H</text><line x1="45" y1="39.8" x2="40" y2="44.6" stroke-width="1.3"/><line x1="49.8" y1="39.4" x2="56.4" y2="43.7" stroke-width="1.3"/></g><g transform="translate(-0.7 0.6)"><line x1="34.8" y1="48.8" x2="25.4" y2="54.8" stroke-width="1.35" stroke-dasharray="1.3 1.45"/></g><g transform="translate(-1 0)"><line x1="62" y1="46.3" x2="74.4" y2="46.9" stroke-width="1.35" stroke-dasharray="1.3 1.45"/></g><line x1="21.4" y1="28.4" x2="27.9" y2="24.5" stroke-width="1.35" stroke-dasharray="1.3 1.45"/></g>
</g>
<rect x="357.8" y="176.05" width="14.4" height="19.1" fill="#fff"/>
<rect x="357.8" y="176.05" width="14.4" height="4.75" fill="#000"/>
<rect x="357.8" y="180.75" width="14.4" height="4.85" fill="#0030ff"/>
<rect x="357.8" y="190.05" width="14.4" height="5.15" fill="#ff2a00"/>
<g stroke="#000"><line x1="372.2" y1="176.05" x2="372.2" y2="195.85" stroke-width="1.4"/><line x1="357.8" y1="195.15" x2="372.2" y2="195.15" stroke-width="1.4"/></g>
<text stroke="none" x="365.5" y="190.75" font-size="11.9" fill="#000" text-anchor="middle">8</text>
<g transform="translate(90.6 251)">
<g stroke="#1c1c1c" fill="#20202a" stroke-linecap="butt" font-weight="bold" text-anchor="middle"><g transform="translate(-8 1.2)"><text stroke="#20202a" stroke-width="0.22" x="38" y="9.72" font-size="5.9">R'</text><text stroke="#20202a" stroke-width="0.22" x="53.8" y="19.17" font-size="6.3">N</text><text stroke="#20202a" stroke-width="0.22" x="69.3" y="19.17" font-size="6.3">H</text><text stroke="#20202a" stroke-width="0.22" x="43" y="25.07" font-size="6.3">C</text><text stroke="#20202a" stroke-width="0.22" x="30.4" y="25.07" font-size="6.3">O</text><text stroke="#20202a" stroke-width="0.22" x="56.8" y="31.07" font-size="6.3">R</text><line x1="57.6" y1="16.9" x2="64.8" y2="16.9" stroke-width="1.3"/><polygon points="52,15.6 42.25,8.72 40.95,11.08" fill="#1c1c1c" stroke="none"/><line x1="45.4" y1="21.3" x2="51.8" y2="17.9" stroke-width="1.3"/><polygon points="45.4,23.6 52.55,29.08 53.85,26.72" fill="#1c1c1c" stroke="none"/><g shape-rendering="crispEdges"><line x1="33.4" y1="21.8" x2="40.2" y2="21.8" stroke-width="1"/><line x1="33.4" y1="23.8" x2="40.2" y2="23.8" stroke-width="1"/></g></g><text stroke="#20202a" stroke-width="0.22" x="14.4" y="52.27" font-size="6.3">O</text><text stroke="#20202a" stroke-width="0.22" x="28.8" y="68.87" font-size="6.3">O</text><text stroke="#20202a" stroke-width="0.22" x="42.3" y="61.67" font-size="6.3">H</text><line x1="16.8" y1="61.7" x2="15" y2="52.9" stroke-width="1.3"/><line x1="18.25" y1="60.3" x2="16.67" y2="52.56" stroke-width="1.3"/><line x1="16.8" y1="61.7" x2="11.7" y2="70.2" stroke-width="1.3"/><line x1="16.8" y1="61.7" x2="26" y2="65.6" stroke-width="1.3"/><polygon points="31.3,65.2 40.46,62.34 39.14,59.66" fill="#1c1c1c" stroke="none"/><g transform="translate(-7.9 1.4)"><text stroke="#20202a" stroke-width="0.22" x="77.3" y="50.77" font-size="6.3">O</text><text stroke="#20202a" stroke-width="0.22" x="66.8" y="69.77" font-size="6.3">O</text><line x1="77.7" y1="51.5" x2="77.7" y2="60.6" stroke-width="1.3"/><line x1="75.5" y1="52.6" x2="75.5" y2="60" stroke-width="1.3" stroke-dasharray="0.95 1.0"/><line x1="77.5" y1="60.6" x2="69.6" y2="65.8" stroke-width="1.3"/><line x1="77.2" y1="63.2" x2="71.2" y2="67.5" stroke-width="1.3" stroke-dasharray="0.95 1.0"/><line x1="77.5" y1="60.6" x2="87.1" y2="67.8" stroke-width="1.3"/><line x1="68.1" y1="57.9" x2="71.3" y2="57.9" stroke-width="1.4"/></g><line x1="45" y1="61.2" x2="56.2" y2="67.3" stroke-width="1.35" stroke-dasharray="1.3 1.45"/><g transform="translate(-15 -0.8)"><text stroke="#20202a" stroke-width="0.22" x="49" y="42.57" font-size="6.3">O</text><text stroke="#20202a" stroke-width="0.22" x="62.3" y="42.57" font-size="6.3">H</text><text stroke="#20202a" stroke-width="0.22" x="47.9" y="54.47" font-size="6.3">H</text><line x1="51.8" y1="40.3" x2="59.3" y2="40.3" stroke-width="1.3"/><line x1="48.6" y1="43.1" x2="48" y2="49.4" stroke-width="1.3"/></g></g>
</g>
<rect x="90.5" y="250.6" width="14.4" height="19.1" fill="#fff"/>
<rect x="90.5" y="260.3" width="14.4" height="4.75" fill="#00f000"/>
<g stroke="#000"><line x1="104.9" y1="250.6" x2="104.9" y2="270.4" stroke-width="1.4"/><line x1="90.5" y1="269.7" x2="104.9" y2="269.7" stroke-width="1.4"/></g>
<text stroke="none" x="98.2" y="264.1" font-size="11.9" fill="#000" text-anchor="middle">9</text>
<g transform="translate(182.8 251)">
<g stroke="#1c1c1c" fill="#20202a" stroke-linecap="butt" font-weight="bold" text-anchor="middle"><g transform="translate(-8 1.2)"><text stroke="#20202a" stroke-width="0.22" x="38" y="9.72" font-size="5.9">R'</text><text stroke="#20202a" stroke-width="0.22" x="53.8" y="19.17" font-size="6.3">N</text><text stroke="#20202a" stroke-width="0.22" x="69.3" y="19.17" font-size="6.3">H</text><text stroke="#20202a" stroke-width="0.22" x="43" y="25.07" font-size="6.3">C</text><text stroke="#20202a" stroke-width="0.22" x="30.4" y="25.07" font-size="6.3">O</text><text stroke="#20202a" stroke-width="0.22" x="56.8" y="31.07" font-size="6.3">R</text><line x1="57.6" y1="16.9" x2="64.8" y2="16.9" stroke-width="1.3"/><polygon points="52,15.6 42.25,8.72 40.95,11.08" fill="#1c1c1c" stroke="none"/><line x1="45.4" y1="21.3" x2="51.8" y2="17.9" stroke-width="1.3"/><polygon points="45.4,23.6 52.55,29.08 53.85,26.72" fill="#1c1c1c" stroke="none"/><g shape-rendering="crispEdges"><line x1="33.4" y1="21.8" x2="40.2" y2="21.8" stroke-width="1"/><line x1="33.4" y1="23.8" x2="40.2" y2="23.8" stroke-width="1"/></g></g><text stroke="#20202a" stroke-width="0.22" x="14.4" y="52.27" font-size="6.3">O</text><text stroke="#20202a" stroke-width="0.22" x="28.8" y="68.87" font-size="6.3">O</text><text stroke="#20202a" stroke-width="0.22" x="42.3" y="61.67" font-size="6.3">H</text><line x1="16.8" y1="61.7" x2="15" y2="52.9" stroke-width="1.3"/><line x1="18.25" y1="60.3" x2="16.67" y2="52.56" stroke-width="1.3"/><line x1="16.8" y1="61.7" x2="11.7" y2="70.2" stroke-width="1.3"/><line x1="16.8" y1="61.7" x2="26" y2="65.6" stroke-width="1.3"/><polygon points="31.3,65.2 40.46,62.34 39.14,59.66" fill="#1c1c1c" stroke="none"/><g transform="translate(-7.9 1.4)"><text stroke="#20202a" stroke-width="0.22" x="77.3" y="50.77" font-size="6.3">O</text><text stroke="#20202a" stroke-width="0.22" x="66.8" y="69.77" font-size="6.3">O</text><line x1="77.7" y1="51.5" x2="77.7" y2="60.6" stroke-width="1.3"/><line x1="75.5" y1="52.6" x2="75.5" y2="60" stroke-width="1.3" stroke-dasharray="0.95 1.0"/><line x1="77.5" y1="60.6" x2="69.6" y2="65.8" stroke-width="1.3"/><line x1="77.2" y1="63.2" x2="71.2" y2="67.5" stroke-width="1.3" stroke-dasharray="0.95 1.0"/><line x1="77.5" y1="60.6" x2="87.1" y2="67.8" stroke-width="1.3"/><line x1="68.1" y1="57.9" x2="71.3" y2="57.9" stroke-width="1.4"/></g><line x1="45" y1="61.2" x2="56.2" y2="67.3" stroke-width="1.35" stroke-dasharray="1.3 1.45"/><g transform="translate(-15 -0.8)"><text stroke="#20202a" stroke-width="0.22" x="49" y="42.57" font-size="6.3">O</text><text stroke="#20202a" stroke-width="0.22" x="62.3" y="42.57" font-size="6.3">H</text><text stroke="#20202a" stroke-width="0.22" x="47.9" y="54.47" font-size="6.3">H</text><line x1="51.8" y1="40.3" x2="59.3" y2="40.3" stroke-width="1.3"/><line x1="48.6" y1="43.1" x2="48" y2="49.4" stroke-width="1.3"/></g><line x1="51.4" y1="41.3" x2="64.9" y2="47.3" stroke-width="1.35" stroke-dasharray="1.3 1.45"/></g>
</g>
<rect x="179.7" y="250.6" width="14.4" height="19.1" fill="#fff"/>
<rect x="179.7" y="255.6" width="14.4" height="4.75" fill="#0030ff"/>
<rect x="179.7" y="260.3" width="14.4" height="4.75" fill="#00f000"/>
<g stroke="#000"><line x1="194.1" y1="250.6" x2="194.1" y2="270.4" stroke-width="1.4"/><line x1="179.7" y1="269.7" x2="194.1" y2="269.7" stroke-width="1.4"/></g>
<text stroke="none" x="187.4" y="265.5" font-size="11.9" fill="#000" text-anchor="middle" textLength="11.6" lengthAdjust="spacingAndGlyphs">10</text>
<g transform="translate(267.9 251)">
<g stroke="#1c1c1c" fill="#20202a" stroke-linecap="butt" font-weight="bold" text-anchor="middle"><g transform="translate(-8 1.2)"><text stroke="#20202a" stroke-width="0.22" x="38" y="9.72" font-size="5.9">R'</text><text stroke="#20202a" stroke-width="0.22" x="53.8" y="19.17" font-size="6.3">N</text><text stroke="#20202a" stroke-width="0.22" x="69.3" y="19.17" font-size="6.3">H</text><text stroke="#20202a" stroke-width="0.22" x="43" y="25.07" font-size="6.3">C</text><text stroke="#20202a" stroke-width="0.22" x="30.4" y="25.07" font-size="6.3">O</text><text stroke="#20202a" stroke-width="0.22" x="56.8" y="31.07" font-size="6.3">R</text><line x1="57.6" y1="16.9" x2="64.8" y2="16.9" stroke-width="1.3"/><polygon points="52,15.6 42.25,8.72 40.95,11.08" fill="#1c1c1c" stroke="none"/><line x1="45.4" y1="21.3" x2="51.8" y2="17.9" stroke-width="1.3"/><polygon points="45.4,23.6 52.55,29.08 53.85,26.72" fill="#1c1c1c" stroke="none"/><g shape-rendering="crispEdges"><line x1="33.4" y1="21.8" x2="40.2" y2="21.8" stroke-width="1"/><line x1="33.4" y1="23.8" x2="40.2" y2="23.8" stroke-width="1"/></g></g><text stroke="#20202a" stroke-width="0.22" x="14.4" y="52.27" font-size="6.3">O</text><text stroke="#20202a" stroke-width="0.22" x="28.8" y="68.87" font-size="6.3">O</text><text stroke="#20202a" stroke-width="0.22" x="42.3" y="61.67" font-size="6.3">H</text><line x1="16.8" y1="61.7" x2="15" y2="52.9" stroke-width="1.3"/><line x1="18.25" y1="60.3" x2="16.67" y2="52.56" stroke-width="1.3"/><line x1="16.8" y1="61.7" x2="11.7" y2="70.2" stroke-width="1.3"/><line x1="16.8" y1="61.7" x2="26" y2="65.6" stroke-width="1.3"/><polygon points="31.3,65.2 40.46,62.34 39.14,59.66" fill="#1c1c1c" stroke="none"/><g transform="translate(-7.9 1.4)"><text stroke="#20202a" stroke-width="0.22" x="77.3" y="50.77" font-size="6.3">O</text><text stroke="#20202a" stroke-width="0.22" x="66.8" y="69.77" font-size="6.3">O</text><line x1="77.7" y1="51.5" x2="77.7" y2="60.6" stroke-width="1.3"/><line x1="75.5" y1="52.6" x2="75.5" y2="60" stroke-width="1.3" stroke-dasharray="0.95 1.0"/><line x1="77.5" y1="60.6" x2="69.6" y2="65.8" stroke-width="1.3"/><line x1="77.2" y1="63.2" x2="71.2" y2="67.5" stroke-width="1.3" stroke-dasharray="0.95 1.0"/><line x1="77.5" y1="60.6" x2="87.1" y2="67.8" stroke-width="1.3"/><line x1="68.1" y1="57.9" x2="71.3" y2="57.9" stroke-width="1.4"/></g><line x1="45" y1="61.2" x2="56.2" y2="67.3" stroke-width="1.35" stroke-dasharray="1.3 1.45"/><g transform="translate(-7.5 -3.3)"><text stroke="#20202a" stroke-width="0.22" x="47.2" y="40.07" font-size="6.3">O</text><text stroke="#20202a" stroke-width="0.22" x="37.9" y="49.07" font-size="6.3">H</text><text stroke="#20202a" stroke-width="0.22" x="59" y="47.97" font-size="6.3">H</text><line x1="45" y1="39.8" x2="40" y2="44.6" stroke-width="1.3"/><line x1="49.8" y1="39.4" x2="56.4" y2="43.7" stroke-width="1.3"/></g><line x1="27.2" y1="44.1" x2="17.3" y2="48.1" stroke-width="1.35" stroke-dasharray="1.3 1.45"/></g>
</g>
<rect x="268.75" y="250.6" width="14.4" height="19.1" fill="#fff"/>
<rect x="268.75" y="250.6" width="14.4" height="5.05" fill="#000"/>
<rect x="268.75" y="260.3" width="14.4" height="4.75" fill="#00f000"/>
<g stroke="#000"><line x1="283.15" y1="250.6" x2="283.15" y2="270.4" stroke-width="1.4"/><line x1="268.75" y1="269.7" x2="283.15" y2="269.7" stroke-width="1.4"/></g>
<text stroke="none" x="276.45" y="264.1" font-size="11.9" fill="#000" text-anchor="middle" textLength="11.6" lengthAdjust="spacingAndGlyphs">11</text>
<g transform="translate(356.5 251)">
<g stroke="#1c1c1c" fill="#20202a" stroke-linecap="butt" font-weight="bold" text-anchor="middle"><g transform="translate(-8 1.2)"><text stroke="#20202a" stroke-width="0.22" x="38" y="9.72" font-size="5.9">R'</text><text stroke="#20202a" stroke-width="0.22" x="53.8" y="19.17" font-size="6.3">N</text><text stroke="#20202a" stroke-width="0.22" x="69.3" y="19.17" font-size="6.3">H</text><text stroke="#20202a" stroke-width="0.22" x="43" y="25.07" font-size="6.3">C</text><text stroke="#20202a" stroke-width="0.22" x="30.4" y="25.07" font-size="6.3">O</text><text stroke="#20202a" stroke-width="0.22" x="56.8" y="31.07" font-size="6.3">R</text><line x1="57.6" y1="16.9" x2="64.8" y2="16.9" stroke-width="1.3"/><polygon points="52,15.6 42.25,8.72 40.95,11.08" fill="#1c1c1c" stroke="none"/><line x1="45.4" y1="21.3" x2="51.8" y2="17.9" stroke-width="1.3"/><polygon points="45.4,23.6 52.55,29.08 53.85,26.72" fill="#1c1c1c" stroke="none"/><g shape-rendering="crispEdges"><line x1="33.4" y1="21.8" x2="40.2" y2="21.8" stroke-width="1"/><line x1="33.4" y1="23.8" x2="40.2" y2="23.8" stroke-width="1"/></g></g><text stroke="#20202a" stroke-width="0.22" x="14.4" y="52.27" font-size="6.3">O</text><text stroke="#20202a" stroke-width="0.22" x="28.8" y="68.87" font-size="6.3">O</text><text stroke="#20202a" stroke-width="0.22" x="42.3" y="61.67" font-size="6.3">H</text><line x1="16.8" y1="61.7" x2="15" y2="52.9" stroke-width="1.3"/><line x1="18.25" y1="60.3" x2="16.67" y2="52.56" stroke-width="1.3"/><line x1="16.8" y1="61.7" x2="11.7" y2="70.2" stroke-width="1.3"/><line x1="16.8" y1="61.7" x2="26" y2="65.6" stroke-width="1.3"/><polygon points="31.3,65.2 40.46,62.34 39.14,59.66" fill="#1c1c1c" stroke="none"/><g transform="translate(-7.9 1.4)"><text stroke="#20202a" stroke-width="0.22" x="77.3" y="50.77" font-size="6.3">O</text><text stroke="#20202a" stroke-width="0.22" x="66.8" y="69.77" font-size="6.3">O</text><line x1="77.7" y1="51.5" x2="77.7" y2="60.6" stroke-width="1.3"/><line x1="75.5" y1="52.6" x2="75.5" y2="60" stroke-width="1.3" stroke-dasharray="0.95 1.0"/><line x1="77.5" y1="60.6" x2="69.6" y2="65.8" stroke-width="1.3"/><line x1="77.2" y1="63.2" x2="71.2" y2="67.5" stroke-width="1.3" stroke-dasharray="0.95 1.0"/><line x1="77.5" y1="60.6" x2="87.1" y2="67.8" stroke-width="1.3"/><line x1="68.1" y1="57.9" x2="71.3" y2="57.9" stroke-width="1.4"/></g><line x1="45" y1="61.2" x2="56.2" y2="67.3" stroke-width="1.35" stroke-dasharray="1.3 1.45"/><g transform="translate(-7.5 -3.3)"><text stroke="#20202a" stroke-width="0.22" x="47.2" y="40.07" font-size="6.3">O</text><text stroke="#20202a" stroke-width="0.22" x="37.9" y="49.07" font-size="6.3">H</text><text stroke="#20202a" stroke-width="0.22" x="59" y="47.97" font-size="6.3">H</text><line x1="45" y1="39.8" x2="40" y2="44.6" stroke-width="1.3"/><line x1="49.8" y1="39.4" x2="56.4" y2="43.7" stroke-width="1.3"/></g><line x1="27.2" y1="44.1" x2="17.3" y2="48.1" stroke-width="1.35" stroke-dasharray="1.3 1.45"/><line x1="54.6" y1="42.9" x2="65.2" y2="48.1" stroke-width="1.35" stroke-dasharray="1.3 1.45"/></g>
</g>
<rect x="357.8" y="250.6" width="14.4" height="19.1" fill="#fff"/>
<rect x="357.8" y="250.6" width="14.4" height="5.05" fill="#000"/>
<rect x="357.8" y="255.6" width="14.4" height="4.75" fill="#0030ff"/>
<rect x="357.8" y="260.3" width="14.4" height="4.75" fill="#00f000"/>
<g stroke="#000"><line x1="372.2" y1="250.6" x2="372.2" y2="270.4" stroke-width="1.4"/><line x1="357.8" y1="269.7" x2="372.2" y2="269.7" stroke-width="1.4"/></g>
<text stroke="none" x="365.5" y="264" font-size="11.9" fill="#000" text-anchor="middle" textLength="11.6" lengthAdjust="spacingAndGlyphs">12</text>
<g stroke="#000" stroke-width="1.4" fill="none">
<rect x="90.5" y="101.3" width="356.5" height="224"/>
<line x1="179.7" y1="101.3" x2="179.7" y2="325.3" stroke-width="1.4"/>
<line x1="268.75" y1="101.3" x2="268.75" y2="325.3" stroke-width="1.4"/>
<line x1="357.8" y1="101.3" x2="357.8" y2="325.3" stroke-width="1.4"/>
<line x1="90.5" y1="176.05" x2="447" y2="176.05" stroke-width="1.4"/>
<line x1="90.5" y1="250.6" x2="447" y2="250.6" stroke-width="1.4"/>
</g>
<!-- Panel C -->
<g shape-rendering="crispEdges">
<rect x="73.3" y="362.5" width="10.44" height="10.43" fill="#781c6d"/>
<rect x="83.44" y="362.5" width="10.44" height="10.43" fill="#2b0b57"/>
<rect x="93.58" y="362.5" width="10.44" height="10.43" fill="#85216b"/>
<rect x="103.71" y="362.5" width="10.44" height="10.43" fill="#ea632a"/>
<rect x="113.85" y="362.5" width="10.44" height="10.43" fill="#f06f20"/>
<rect x="123.99" y="362.5" width="10.44" height="10.43" fill="#dd513a"/>
<rect x="134.12" y="362.5" width="10.44" height="10.43" fill="#fcffa4"/>
<rect x="144.26" y="362.5" width="10.44" height="10.43" fill="#fcffa4"/>
<rect x="154.4" y="362.5" width="10.44" height="10.43" fill="#4c0c6b"/>
<rect x="164.54" y="362.5" width="10.44" height="10.43" fill="#140b34"/>
<rect x="174.68" y="362.5" width="10.44" height="10.43" fill="#4f0d6c"/>
<rect x="184.81" y="362.5" width="10.44" height="10.43" fill="#b1325a"/>
<rect x="73.3" y="372.63" width="10.44" height="10.43" fill="#61136e"/>
<rect x="83.44" y="372.63" width="10.44" height="10.43" fill="#2f0a5b"/>
<rect x="93.58" y="372.63" width="10.44" height="10.43" fill="#7f1e6c"/>
<rect x="103.71" y="372.63" width="10.44" height="10.43" fill="#c73e4c"/>
<rect x="113.85" y="372.63" width="10.44" height="10.43" fill="#ea632a"/>
<rect x="123.99" y="372.63" width="10.44" height="10.43" fill="#d54a41"/>
<rect x="134.12" y="372.63" width="10.44" height="10.43" fill="#f8cf3a"/>
<rect x="144.26" y="372.63" width="10.44" height="10.43" fill="#fac62d"/>
<rect x="154.4" y="372.63" width="10.44" height="10.43" fill="#4c0c6b"/>
<rect x="164.54" y="372.63" width="10.44" height="10.43" fill="#160b39"/>
<rect x="174.68" y="372.63" width="10.44" height="10.43" fill="#520e6d"/>
<rect x="184.81" y="372.63" width="10.44" height="10.43" fill="#a52c60"/>
<rect x="73.3" y="382.77" width="10.44" height="10.43" fill="#320a5e"/>
<rect x="83.44" y="382.77" width="10.44" height="10.43" fill="#fcffa4"/>
<rect x="93.58" y="382.77" width="10.44" height="10.43" fill="#fcffa4"/>
<rect x="103.71" y="382.77" width="10.44" height="10.43" fill="#fcffa4"/>
<rect x="113.85" y="382.77" width="10.44" height="10.43" fill="#f67e14"/>
<rect x="123.99" y="382.77" width="10.44" height="10.43" fill="#fcffa4"/>
<rect x="134.12" y="382.77" width="10.44" height="10.43" fill="#fcffa4"/>
<rect x="144.26" y="382.77" width="10.44" height="10.43" fill="#fcffa4"/>
<rect x="154.4" y="382.77" width="10.44" height="10.43" fill="#040312"/>
<rect x="164.54" y="382.77" width="10.44" height="10.43" fill="#fca108"/>
<rect x="174.68" y="382.77" width="10.44" height="10.43" fill="#fcffa4"/>
<rect x="184.81" y="382.77" width="10.44" height="10.43" fill="#fcffa4"/>
</g>
<rect x="73.3" y="362.5" width="121.65" height="30.4" fill="none" stroke="#111" stroke-width="0.8"/>
<g stroke="#1a1a1a" stroke-width="0.8">
<line x1="78.37" y1="392.9" x2="78.37" y2="395.1" stroke-width="0.8"/>
<line x1="88.51" y1="392.9" x2="88.51" y2="395.1" stroke-width="0.8"/>
<line x1="98.64" y1="392.9" x2="98.64" y2="395.1" stroke-width="0.8"/>
<line x1="108.78" y1="392.9" x2="108.78" y2="395.1" stroke-width="0.8"/>
<line x1="118.92" y1="392.9" x2="118.92" y2="395.1" stroke-width="0.8"/>
<line x1="129.06" y1="392.9" x2="129.06" y2="395.1" stroke-width="0.8"/>
<line x1="139.19" y1="392.9" x2="139.19" y2="395.1" stroke-width="0.8"/>
<line x1="149.33" y1="392.9" x2="149.33" y2="395.1" stroke-width="0.8"/>
<line x1="159.47" y1="392.9" x2="159.47" y2="395.1" stroke-width="0.8"/>
<line x1="169.61" y1="392.9" x2="169.61" y2="395.1" stroke-width="0.8"/>
<line x1="179.74" y1="392.9" x2="179.74" y2="395.1" stroke-width="0.8"/>
<line x1="189.88" y1="392.9" x2="189.88" y2="395.1" stroke-width="0.8"/>
<line x1="71.2" y1="367.57" x2="73.3" y2="367.57" stroke-width="0.8"/>
<line x1="71.2" y1="377.7" x2="73.3" y2="377.7" stroke-width="0.8"/>
<line x1="71.2" y1="387.83" x2="73.3" y2="387.83" stroke-width="0.8"/>
</g>
<g font-size="8.2" fill="#000" text-anchor="middle">
<text stroke="none" transform="translate(78.37 403.1) scale(0.9 1)">1</text>
<text stroke="none" transform="translate(88.51 403.1) scale(0.9 1)">2</text>
<text stroke="none" transform="translate(98.64 403.1) scale(0.9 1)">3</text>
<text stroke="none" transform="translate(108.78 403.1) scale(0.9 1)">4</text>
<text stroke="none" transform="translate(118.92 403.1) scale(0.9 1)">5</text>
<text stroke="none" transform="translate(129.06 403.1) scale(0.9 1)">6</text>
<text stroke="none" transform="translate(139.19 403.1) scale(0.9 1)">7</text>
<text stroke="none" transform="translate(149.33 403.1) scale(0.9 1)">8</text>
<text stroke="none" transform="translate(159.47 403.1) scale(0.9 1)">9</text>
<text stroke="none" transform="translate(169.61 403.1) scale(0.9 1)">10</text>
<text stroke="none" transform="translate(179.74 403.1) scale(0.9 1)">11</text>
<text stroke="none" transform="translate(189.88 403.1) scale(0.9 1)">12</text>
</g>
<text stroke="none" x="135.12" y="357.1" font-size="10" fill="#111" text-anchor="middle">MA-CA</text>
<g font-size="8.6" fill="#000" text-anchor="end">
<text stroke="none" transform="translate(69.3 370.87) scale(0.88 1)">NAC</text>
<text stroke="none" transform="translate(69.3 381) scale(0.88 1)">GS</text>
<text stroke="none" transform="translate(69.3 391.13) scale(0.88 1)">Unbound</text>
</g>
<g shape-rendering="crispEdges">
<rect x="201.45" y="362.5" width="10.44" height="10.43" fill="#781c6d"/>
<rect x="211.59" y="362.5" width="10.44" height="10.43" fill="#2f0a5b"/>
<rect x="221.72" y="362.5" width="10.44" height="10.43" fill="#fcffa4"/>
<rect x="231.86" y="362.5" width="10.44" height="10.43" fill="#c73e4c"/>
<rect x="242" y="362.5" width="10.44" height="10.43" fill="#fcffa4"/>
<rect x="252.14" y="362.5" width="10.44" height="10.43" fill="#fcffa4"/>
<rect x="262.27" y="362.5" width="10.44" height="10.43" fill="#fcffa4"/>
<rect x="272.41" y="362.5" width="10.44" height="10.43" fill="#fcffa4"/>
<rect x="282.55" y="362.5" width="10.44" height="10.43" fill="#490b6a"/>
<rect x="292.69" y="362.5" width="10.44" height="10.43" fill="#0c0826"/>
<rect x="302.82" y="362.5" width="10.44" height="10.43" fill="#a82e5f"/>
<rect x="312.96" y="362.5" width="10.44" height="10.43" fill="#fcffa4"/>
<rect x="201.45" y="372.63" width="10.44" height="10.43" fill="#721a6e"/>
<rect x="211.59" y="372.63" width="10.44" height="10.43" fill="#2f0a5b"/>
<rect x="221.72" y="372.63" width="10.44" height="10.43" fill="#c13a50"/>
<rect x="231.86" y="372.63" width="10.44" height="10.43" fill="#dd513a"/>
<rect x="242" y="372.63" width="10.44" height="10.43" fill="#eb6628"/>
<rect x="252.14" y="372.63" width="10.44" height="10.43" fill="#e65d2f"/>
<rect x="262.27" y="372.63" width="10.44" height="10.43" fill="#fcffa4"/>
<rect x="272.41" y="372.63" width="10.44" height="10.43" fill="#fcffa4"/>
<rect x="282.55" y="372.63" width="10.44" height="10.43" fill="#490b6a"/>
<rect x="292.69" y="372.63" width="10.44" height="10.43" fill="#0c0826"/>
<rect x="302.82" y="372.63" width="10.44" height="10.43" fill="#8d2369"/>
<rect x="312.96" y="372.63" width="10.44" height="10.43" fill="#cf4446"/>
<rect x="201.45" y="382.77" width="10.44" height="10.43" fill="#280b53"/>
<rect x="211.59" y="382.77" width="10.44" height="10.43" fill="#fcffa4"/>
<rect x="221.72" y="382.77" width="10.44" height="10.43" fill="#fcae12"/>
<rect x="231.86" y="382.77" width="10.44" height="10.43" fill="#fcffa4"/>
<rect x="242" y="382.77" width="10.44" height="10.43" fill="#a82e5f"/>
<rect x="252.14" y="382.77" width="10.44" height="10.43" fill="#fcffa4"/>
<rect x="262.27" y="382.77" width="10.44" height="10.43" fill="#fcffa4"/>
<rect x="272.41" y="382.77" width="10.44" height="10.43" fill="#fcffa4"/>
<rect x="282.55" y="382.77" width="10.44" height="10.43" fill="#07051b"/>
<rect x="292.69" y="382.77" width="10.44" height="10.43" fill="#fcb216"/>
<rect x="302.82" y="382.77" width="10.44" height="10.43" fill="#fcffa4"/>
<rect x="312.96" y="382.77" width="10.44" height="10.43" fill="#fcffa4"/>
</g>
<rect x="201.45" y="362.5" width="121.65" height="30.4" fill="none" stroke="#111" stroke-width="0.8"/>
<g stroke="#1a1a1a" stroke-width="0.8">
<line x1="206.52" y1="392.9" x2="206.52" y2="395.1" stroke-width="0.8"/>
<line x1="216.66" y1="392.9" x2="216.66" y2="395.1" stroke-width="0.8"/>
<line x1="226.79" y1="392.9" x2="226.79" y2="395.1" stroke-width="0.8"/>
<line x1="236.93" y1="392.9" x2="236.93" y2="395.1" stroke-width="0.8"/>
<line x1="247.07" y1="392.9" x2="247.07" y2="395.1" stroke-width="0.8"/>
<line x1="257.21" y1="392.9" x2="257.21" y2="395.1" stroke-width="0.8"/>
<line x1="267.34" y1="392.9" x2="267.34" y2="395.1" stroke-width="0.8"/>
<line x1="277.48" y1="392.9" x2="277.48" y2="395.1" stroke-width="0.8"/>
<line x1="287.62" y1="392.9" x2="287.62" y2="395.1" stroke-width="0.8"/>
<line x1="297.76" y1="392.9" x2="297.76" y2="395.1" stroke-width="0.8"/>
<line x1="307.89" y1="392.9" x2="307.89" y2="395.1" stroke-width="0.8"/>
<line x1="318.03" y1="392.9" x2="318.03" y2="395.1" stroke-width="0.8"/>
<line x1="199.35" y1="367.57" x2="201.45" y2="367.57" stroke-width="0.8"/>
<line x1="199.35" y1="377.7" x2="201.45" y2="377.7" stroke-width="0.8"/>
<line x1="199.35" y1="387.83" x2="201.45" y2="387.83" stroke-width="0.8"/>
</g>
<g font-size="8.2" fill="#000" text-anchor="middle">
<text stroke="none" transform="translate(206.52 403.1) scale(0.9 1)">1</text>
<text stroke="none" transform="translate(216.66 403.1) scale(0.9 1)">2</text>
<text stroke="none" transform="translate(226.79 403.1) scale(0.9 1)">3</text>
<text stroke="none" transform="translate(236.93 403.1) scale(0.9 1)">4</text>
<text stroke="none" transform="translate(247.07 403.1) scale(0.9 1)">5</text>
<text stroke="none" transform="translate(257.21 403.1) scale(0.9 1)">6</text>
<text stroke="none" transform="translate(267.34 403.1) scale(0.9 1)">7</text>
<text stroke="none" transform="translate(277.48 403.1) scale(0.9 1)">8</text>
<text stroke="none" transform="translate(287.62 403.1) scale(0.9 1)">9</text>
<text stroke="none" transform="translate(297.76 403.1) scale(0.9 1)">10</text>
<text stroke="none" transform="translate(307.89 403.1) scale(0.9 1)">11</text>
<text stroke="none" transform="translate(318.03 403.1) scale(0.9 1)">12</text>
</g>
<text stroke="none" x="263.27" y="357.1" font-size="10" fill="#111" text-anchor="middle">CA-SP1</text>
<g shape-rendering="crispEdges">
<rect x="329.6" y="362.5" width="10.44" height="10.43" fill="#721a6e"/>
<rect x="339.74" y="362.5" width="10.44" height="10.43" fill="#4f0d6c"/>
<rect x="349.88" y="362.5" width="10.44" height="10.43" fill="#61136e"/>
<rect x="360.01" y="362.5" width="10.44" height="10.43" fill="#57106e"/>
<rect x="370.15" y="362.5" width="10.44" height="10.43" fill="#61136e"/>
<rect x="380.29" y="362.5" width="10.44" height="10.43" fill="#5d126e"/>
<rect x="390.43" y="362.5" width="10.44" height="10.43" fill="#fcffa4"/>
<rect x="400.56" y="362.5" width="10.44" height="10.43" fill="#5a116e"/>
<rect x="410.7" y="362.5" width="10.44" height="10.43" fill="#fcffa4"/>
<rect x="420.84" y="362.5" width="10.44" height="10.43" fill="#3e0966"/>
<rect x="430.98" y="362.5" width="10.44" height="10.43" fill="#932667"/>
<rect x="441.11" y="362.5" width="10.44" height="10.43" fill="#4f0d6c"/>
<rect x="329.6" y="372.63" width="10.44" height="10.43" fill="#b73557"/>
<rect x="339.74" y="372.63" width="10.44" height="10.43" fill="#67166e"/>
<rect x="349.88" y="372.63" width="10.44" height="10.43" fill="#d34743"/>
<rect x="360.01" y="372.63" width="10.44" height="10.43" fill="#8d2369"/>
<rect x="370.15" y="372.63" width="10.44" height="10.43" fill="#82206c"/>
<rect x="380.29" y="372.63" width="10.44" height="10.43" fill="#320a5e"/>
<rect x="390.43" y="372.63" width="10.44" height="10.43" fill="#932667"/>
<rect x="400.56" y="372.63" width="10.44" height="10.43" fill="#1c0c43"/>
<rect x="410.7" y="372.63" width="10.44" height="10.43" fill="#932667"/>
<rect x="420.84" y="372.63" width="10.44" height="10.43" fill="#450a69"/>
<rect x="430.98" y="372.63" width="10.44" height="10.43" fill="#c43c4e"/>
<rect x="441.11" y="372.63" width="10.44" height="10.43" fill="#cc4248"/>
<rect x="329.6" y="382.77" width="10.44" height="10.43" fill="#520e6d"/>
<rect x="339.74" y="382.77" width="10.44" height="10.43" fill="#fca108"/>
<rect x="349.88" y="382.77" width="10.44" height="10.43" fill="#fbbe23"/>
<rect x="360.01" y="382.77" width="10.44" height="10.43" fill="#fcffa4"/>
<rect x="370.15" y="382.77" width="10.44" height="10.43" fill="#b43359"/>
<rect x="380.29" y="382.77" width="10.44" height="10.43" fill="#d84c3e"/>
<rect x="390.43" y="382.77" width="10.44" height="10.43" fill="#fcffa4"/>
<rect x="400.56" y="382.77" width="10.44" height="10.43" fill="#fcffa4"/>
<rect x="410.7" y="382.77" width="10.44" height="10.43" fill="#000004"/>
<rect x="420.84" y="382.77" width="10.44" height="10.43" fill="#f06f20"/>
<rect x="430.98" y="382.77" width="10.44" height="10.43" fill="#fb9906"/>
<rect x="441.11" y="382.77" width="10.44" height="10.43" fill="#fcffa4"/>
</g>
<rect x="329.6" y="362.5" width="121.65" height="30.4" fill="none" stroke="#111" stroke-width="0.8"/>
<g stroke="#1a1a1a" stroke-width="0.8">
<line x1="334.67" y1="392.9" x2="334.67" y2="395.1" stroke-width="0.8"/>
<line x1="344.81" y1="392.9" x2="344.81" y2="395.1" stroke-width="0.8"/>
<line x1="354.94" y1="392.9" x2="354.94" y2="395.1" stroke-width="0.8"/>
<line x1="365.08" y1="392.9" x2="365.08" y2="395.1" stroke-width="0.8"/>
<line x1="375.22" y1="392.9" x2="375.22" y2="395.1" stroke-width="0.8"/>
<line x1="385.36" y1="392.9" x2="385.36" y2="395.1" stroke-width="0.8"/>
<line x1="395.49" y1="392.9" x2="395.49" y2="395.1" stroke-width="0.8"/>
<line x1="405.63" y1="392.9" x2="405.63" y2="395.1" stroke-width="0.8"/>
<line x1="415.77" y1="392.9" x2="415.77" y2="395.1" stroke-width="0.8"/>
<line x1="425.91" y1="392.9" x2="425.91" y2="395.1" stroke-width="0.8"/>
<line x1="436.04" y1="392.9" x2="436.04" y2="395.1" stroke-width="0.8"/>
<line x1="446.18" y1="392.9" x2="446.18" y2="395.1" stroke-width="0.8"/>
<line x1="327.5" y1="367.57" x2="329.6" y2="367.57" stroke-width="0.8"/>
<line x1="327.5" y1="377.7" x2="329.6" y2="377.7" stroke-width="0.8"/>
<line x1="327.5" y1="387.83" x2="329.6" y2="387.83" stroke-width="0.8"/>
</g>
<g font-size="8.2" fill="#000" text-anchor="middle">
<text stroke="none" transform="translate(334.67 403.1) scale(0.9 1)">1</text>
<text stroke="none" transform="translate(344.81 403.1) scale(0.9 1)">2</text>
<text stroke="none" transform="translate(354.94 403.1) scale(0.9 1)">3</text>
<text stroke="none" transform="translate(365.08 403.1) scale(0.9 1)">4</text>
<text stroke="none" transform="translate(375.22 403.1) scale(0.9 1)">5</text>
<text stroke="none" transform="translate(385.36 403.1) scale(0.9 1)">6</text>
<text stroke="none" transform="translate(395.49 403.1) scale(0.9 1)">7</text>
<text stroke="none" transform="translate(405.63 403.1) scale(0.9 1)">8</text>
<text stroke="none" transform="translate(415.77 403.1) scale(0.9 1)">9</text>
<text stroke="none" transform="translate(425.91 403.1) scale(0.9 1)">10</text>
<text stroke="none" transform="translate(436.04 403.1) scale(0.9 1)">11</text>
<text stroke="none" transform="translate(446.18 403.1) scale(0.9 1)">12</text>
</g>
<text stroke="none" x="391.43" y="357.1" font-size="10" fill="#111" text-anchor="middle">SP1-NC</text>
<g shape-rendering="crispEdges">
<rect x="73.3" y="425.3" width="10.44" height="10.43" fill="#7c1d6d"/>
<rect x="83.44" y="425.3" width="10.44" height="10.43" fill="#320a5e"/>
<rect x="93.58" y="425.3" width="10.44" height="10.43" fill="#bf3952"/>
<rect x="103.71" y="425.3" width="10.44" height="10.43" fill="#8d2369"/>
<rect x="113.85" y="425.3" width="10.44" height="10.43" fill="#fcffa4"/>
<rect x="123.99" y="425.3" width="10.44" height="10.43" fill="#fcffa4"/>
<rect x="134.12" y="425.3" width="10.44" height="10.43" fill="#fcffa4"/>
<rect x="144.26" y="425.3" width="10.44" height="10.43" fill="#fcffa4"/>
<rect x="154.4" y="425.3" width="10.44" height="10.43" fill="#420a68"/>
<rect x="164.54" y="425.3" width="10.44" height="10.43" fill="#0c0826"/>
<rect x="174.68" y="425.3" width="10.44" height="10.43" fill="#61136e"/>
<rect x="184.81" y="425.3" width="10.44" height="10.43" fill="#932667"/>
<rect x="73.3" y="435.43" width="10.44" height="10.43" fill="#751b6e"/>
<rect x="83.44" y="435.43" width="10.44" height="10.43" fill="#320a5e"/>
<rect x="93.58" y="435.43" width="10.44" height="10.43" fill="#d84c3e"/>
<rect x="103.71" y="435.43" width="10.44" height="10.43" fill="#dd513a"/>
<rect x="113.85" y="435.43" width="10.44" height="10.43" fill="#fac228"/>
<rect x="123.99" y="435.43" width="10.44" height="10.43" fill="#f8890c"/>
<rect x="134.12" y="435.43" width="10.44" height="10.43" fill="#fcffa4"/>
<rect x="144.26" y="435.43" width="10.44" height="10.43" fill="#fcffa4"/>
<rect x="154.4" y="435.43" width="10.44" height="10.43" fill="#490b6a"/>
<rect x="164.54" y="435.43" width="10.44" height="10.43" fill="#09061f"/>
<rect x="174.68" y="435.43" width="10.44" height="10.43" fill="#a82e5f"/>
<rect x="184.81" y="435.43" width="10.44" height="10.43" fill="#c13a50"/>
<rect x="73.3" y="445.57" width="10.44" height="10.43" fill="#2b0b57"/>
<rect x="83.44" y="445.57" width="10.44" height="10.43" fill="#fb9606"/>
<rect x="93.58" y="445.57" width="10.44" height="10.43" fill="#fac228"/>
<rect x="103.71" y="445.57" width="10.44" height="10.43" fill="#fcffa4"/>
<rect x="113.85" y="445.57" width="10.44" height="10.43" fill="#ea632a"/>
<rect x="123.99" y="445.57" width="10.44" height="10.43" fill="#fcffa4"/>
<rect x="134.12" y="445.57" width="10.44" height="10.43" fill="#fcffa4"/>
<rect x="144.26" y="445.57" width="10.44" height="10.43" fill="#fcffa4"/>
<rect x="154.4" y="445.57" width="10.44" height="10.43" fill="#050417"/>
<rect x="164.54" y="445.57" width="10.44" height="10.43" fill="#e65d2f"/>
<rect x="174.68" y="445.57" width="10.44" height="10.43" fill="#f57b17"/>
<rect x="184.81" y="445.57" width="10.44" height="10.43" fill="#fcffa4"/>
</g>
<rect x="73.3" y="425.3" width="121.65" height="30.4" fill="none" stroke="#111" stroke-width="0.8"/>
<g stroke="#1a1a1a" stroke-width="0.8">
<line x1="78.37" y1="455.7" x2="78.37" y2="457.9" stroke-width="0.8"/>
<line x1="88.51" y1="455.7" x2="88.51" y2="457.9" stroke-width="0.8"/>
<line x1="98.64" y1="455.7" x2="98.64" y2="457.9" stroke-width="0.8"/>
<line x1="108.78" y1="455.7" x2="108.78" y2="457.9" stroke-width="0.8"/>
<line x1="118.92" y1="455.7" x2="118.92" y2="457.9" stroke-width="0.8"/>
<line x1="129.06" y1="455.7" x2="129.06" y2="457.9" stroke-width="0.8"/>
<line x1="139.19" y1="455.7" x2="139.19" y2="457.9" stroke-width="0.8"/>
<line x1="149.33" y1="455.7" x2="149.33" y2="457.9" stroke-width="0.8"/>
<line x1="159.47" y1="455.7" x2="159.47" y2="457.9" stroke-width="0.8"/>
<line x1="169.61" y1="455.7" x2="169.61" y2="457.9" stroke-width="0.8"/>
<line x1="179.74" y1="455.7" x2="179.74" y2="457.9" stroke-width="0.8"/>
<line x1="189.88" y1="455.7" x2="189.88" y2="457.9" stroke-width="0.8"/>
<line x1="71.2" y1="430.37" x2="73.3" y2="430.37" stroke-width="0.8"/>
<line x1="71.2" y1="440.5" x2="73.3" y2="440.5" stroke-width="0.8"/>
<line x1="71.2" y1="450.63" x2="73.3" y2="450.63" stroke-width="0.8"/>
</g>
<g font-size="8.2" fill="#000" text-anchor="middle">
<text stroke="none" transform="translate(78.37 465.9) scale(0.9 1)">1</text>
<text stroke="none" transform="translate(88.51 465.9) scale(0.9 1)">2</text>
<text stroke="none" transform="translate(98.64 465.9) scale(0.9 1)">3</text>
<text stroke="none" transform="translate(108.78 465.9) scale(0.9 1)">4</text>
<text stroke="none" transform="translate(118.92 465.9) scale(0.9 1)">5</text>
<text stroke="none" transform="translate(129.06 465.9) scale(0.9 1)">6</text>
<text stroke="none" transform="translate(139.19 465.9) scale(0.9 1)">7</text>
<text stroke="none" transform="translate(149.33 465.9) scale(0.9 1)">8</text>
<text stroke="none" transform="translate(159.47 465.9) scale(0.9 1)">9</text>
<text stroke="none" transform="translate(169.61 465.9) scale(0.9 1)">10</text>
<text stroke="none" transform="translate(179.74 465.9) scale(0.9 1)">11</text>
<text stroke="none" transform="translate(189.88 465.9) scale(0.9 1)">12</text>
</g>
<text stroke="none" x="135.12" y="419.9" font-size="10" fill="#111" text-anchor="middle">NC-SP2</text>
<g font-size="8.6" fill="#000" text-anchor="end">
<text stroke="none" transform="translate(69.3 433.67) scale(0.88 1)">NAC</text>
<text stroke="none" transform="translate(69.3 443.8) scale(0.88 1)">GS</text>
<text stroke="none" transform="translate(69.3 453.93) scale(0.88 1)">Unbound</text>
</g>
<g shape-rendering="crispEdges">
<rect x="201.45" y="425.3" width="10.44" height="10.43" fill="#6d186e"/>
<rect x="211.59" y="425.3" width="10.44" height="10.43" fill="#360961"/>
<rect x="221.72" y="425.3" width="10.44" height="10.43" fill="#7f1e6c"/>
<rect x="231.86" y="425.3" width="10.44" height="10.43" fill="#7c1d6d"/>
<rect x="242" y="425.3" width="10.44" height="10.43" fill="#e45a31"/>
<rect x="252.14" y="425.3" width="10.44" height="10.43" fill="#e65d2f"/>
<rect x="262.27" y="425.3" width="10.44" height="10.43" fill="#fcffa4"/>
<rect x="272.41" y="425.3" width="10.44" height="10.43" fill="#e8602d"/>
<rect x="282.55" y="425.3" width="10.44" height="10.43" fill="#4f0d6c"/>
<rect x="292.69" y="425.3" width="10.44" height="10.43" fill="#210c4a"/>
<rect x="302.82" y="425.3" width="10.44" height="10.43" fill="#4c0c6b"/>
<rect x="312.96" y="425.3" width="10.44" height="10.43" fill="#4f0d6c"/>
<rect x="201.45" y="435.43" width="10.44" height="10.43" fill="#6d186e"/>
<rect x="211.59" y="435.43" width="10.44" height="10.43" fill="#360961"/>
<rect x="221.72" y="435.43" width="10.44" height="10.43" fill="#a52c60"/>
<rect x="231.86" y="435.43" width="10.44" height="10.43" fill="#972766"/>
<rect x="242" y="435.43" width="10.44" height="10.43" fill="#fcffa4"/>
<rect x="252.14" y="435.43" width="10.44" height="10.43" fill="#fbb61a"/>
<rect x="262.27" y="435.43" width="10.44" height="10.43" fill="#fcffa4"/>
<rect x="272.41" y="435.43" width="10.44" height="10.43" fill="#fbba1f"/>
<rect x="282.55" y="435.43" width="10.44" height="10.43" fill="#4f0d6c"/>
<rect x="292.69" y="435.43" width="10.44" height="10.43" fill="#160b39"/>
<rect x="302.82" y="435.43" width="10.44" height="10.43" fill="#5a116e"/>
<rect x="312.96" y="435.43" width="10.44" height="10.43" fill="#61136e"/>
<rect x="201.45" y="445.57" width="10.44" height="10.43" fill="#390963"/>
<rect x="211.59" y="445.57" width="10.44" height="10.43" fill="#fcffa4"/>
<rect x="221.72" y="445.57" width="10.44" height="10.43" fill="#fcffa4"/>
<rect x="231.86" y="445.57" width="10.44" height="10.43" fill="#fcffa4"/>
<rect x="242" y="445.57" width="10.44" height="10.43" fill="#fcffa4"/>
<rect x="252.14" y="445.57" width="10.44" height="10.43" fill="#fcffa4"/>
<rect x="262.27" y="445.57" width="10.44" height="10.43" fill="#fcffa4"/>
<rect x="272.41" y="445.57" width="10.44" height="10.43" fill="#fcffa4"/>
<rect x="282.55" y="445.57" width="10.44" height="10.43" fill="#040312"/>
<rect x="292.69" y="445.57" width="10.44" height="10.43" fill="#f2741c"/>
<rect x="302.82" y="445.57" width="10.44" height="10.43" fill="#fcffa4"/>
<rect x="312.96" y="445.57" width="10.44" height="10.43" fill="#fcffa4"/>
</g>
<rect x="201.45" y="425.3" width="121.65" height="30.4" fill="none" stroke="#111" stroke-width="0.8"/>
<g stroke="#1a1a1a" stroke-width="0.8">
<line x1="206.52" y1="455.7" x2="206.52" y2="457.9" stroke-width="0.8"/>
<line x1="216.66" y1="455.7" x2="216.66" y2="457.9" stroke-width="0.8"/>
<line x1="226.79" y1="455.7" x2="226.79" y2="457.9" stroke-width="0.8"/>
<line x1="236.93" y1="455.7" x2="236.93" y2="457.9" stroke-width="0.8"/>
<line x1="247.07" y1="455.7" x2="247.07" y2="457.9" stroke-width="0.8"/>
<line x1="257.21" y1="455.7" x2="257.21" y2="457.9" stroke-width="0.8"/>
<line x1="267.34" y1="455.7" x2="267.34" y2="457.9" stroke-width="0.8"/>
<line x1="277.48" y1="455.7" x2="277.48" y2="457.9" stroke-width="0.8"/>
<line x1="287.62" y1="455.7" x2="287.62" y2="457.9" stroke-width="0.8"/>
<line x1="297.76" y1="455.7" x2="297.76" y2="457.9" stroke-width="0.8"/>
<line x1="307.89" y1="455.7" x2="307.89" y2="457.9" stroke-width="0.8"/>
<line x1="318.03" y1="455.7" x2="318.03" y2="457.9" stroke-width="0.8"/>
<line x1="199.35" y1="430.37" x2="201.45" y2="430.37" stroke-width="0.8"/>
<line x1="199.35" y1="440.5" x2="201.45" y2="440.5" stroke-width="0.8"/>
<line x1="199.35" y1="450.63" x2="201.45" y2="450.63" stroke-width="0.8"/>
</g>
<g font-size="8.2" fill="#000" text-anchor="middle">
<text stroke="none" transform="translate(206.52 465.9) scale(0.9 1)">1</text>
<text stroke="none" transform="translate(216.66 465.9) scale(0.9 1)">2</text>
<text stroke="none" transform="translate(226.79 465.9) scale(0.9 1)">3</text>
<text stroke="none" transform="translate(236.93 465.9) scale(0.9 1)">4</text>
<text stroke="none" transform="translate(247.07 465.9) scale(0.9 1)">5</text>
<text stroke="none" transform="translate(257.21 465.9) scale(0.9 1)">6</text>
<text stroke="none" transform="translate(267.34 465.9) scale(0.9 1)">7</text>
<text stroke="none" transform="translate(277.48 465.9) scale(0.9 1)">8</text>
<text stroke="none" transform="translate(287.62 465.9) scale(0.9 1)">9</text>
<text stroke="none" transform="translate(297.76 465.9) scale(0.9 1)">10</text>
<text stroke="none" transform="translate(307.89 465.9) scale(0.9 1)">11</text>
<text stroke="none" transform="translate(318.03 465.9) scale(0.9 1)">12</text>
</g>
<text stroke="none" x="263.27" y="419.9" font-size="10" fill="#111" text-anchor="middle">SP2-p6</text>
<g shape-rendering="crispEdges">
<rect x="329.6" y="425.3" width="10.44" height="10.43" fill="#7c1d6d"/>
<rect x="339.74" y="425.3" width="10.44" height="10.43" fill="#240c4f"/>
<rect x="349.88" y="425.3" width="10.44" height="10.43" fill="#f2741c"/>
<rect x="360.01" y="425.3" width="10.44" height="10.43" fill="#fcffa4"/>
<rect x="370.15" y="425.3" width="10.44" height="10.43" fill="#f67e14"/>
<rect x="380.29" y="425.3" width="10.44" height="10.43" fill="#c43c4e"/>
<rect x="390.43" y="425.3" width="10.44" height="10.43" fill="#fcffa4"/>
<rect x="400.56" y="425.3" width="10.44" height="10.43" fill="#fcffa4"/>
<rect x="410.7" y="425.3" width="10.44" height="10.43" fill="#5a116e"/>
<rect x="420.84" y="425.3" width="10.44" height="10.43" fill="#0c0826"/>
<rect x="430.98" y="425.3" width="10.44" height="10.43" fill="#ef6c23"/>
<rect x="441.11" y="425.3" width="10.44" height="10.43" fill="#ef6c23"/>
<rect x="329.6" y="435.43" width="10.44" height="10.43" fill="#751b6e"/>
<rect x="339.74" y="435.43" width="10.44" height="10.43" fill="#240c4f"/>
<rect x="349.88" y="435.43" width="10.44" height="10.43" fill="#cc4248"/>
<rect x="360.01" y="435.43" width="10.44" height="10.43" fill="#df5337"/>
<rect x="370.15" y="435.43" width="10.44" height="10.43" fill="#f67e14"/>
<rect x="380.29" y="435.43" width="10.44" height="10.43" fill="#c43c4e"/>
<rect x="390.43" y="435.43" width="10.44" height="10.43" fill="#f3e35a"/>
<rect x="400.56" y="435.43" width="10.44" height="10.43" fill="#fac62d"/>
<rect x="410.7" y="435.43" width="10.44" height="10.43" fill="#5a116e"/>
<rect x="420.84" y="435.43" width="10.44" height="10.43" fill="#0c0826"/>
<rect x="430.98" y="435.43" width="10.44" height="10.43" fill="#c13a50"/>
<rect x="441.11" y="435.43" width="10.44" height="10.43" fill="#df5337"/>
<rect x="329.6" y="445.57" width="10.44" height="10.43" fill="#2b0b57"/>
<rect x="339.74" y="445.57" width="10.44" height="10.43" fill="#f2741c"/>
<rect x="349.88" y="445.57" width="10.44" height="10.43" fill="#fca80d"/>
<rect x="360.01" y="445.57" width="10.44" height="10.43" fill="#fcffa4"/>
<rect x="370.15" y="445.57" width="10.44" height="10.43" fill="#bf3952"/>
<rect x="380.29" y="445.57" width="10.44" height="10.43" fill="#fcffa4"/>
<rect x="390.43" y="445.57" width="10.44" height="10.43" fill="#fcffa4"/>
<rect x="400.56" y="445.57" width="10.44" height="10.43" fill="#fcffa4"/>
<rect x="410.7" y="445.57" width="10.44" height="10.43" fill="#02020e"/>
<rect x="420.84" y="445.57" width="10.44" height="10.43" fill="#c13a50"/>
<rect x="430.98" y="445.57" width="10.44" height="10.43" fill="#f8850f"/>
<rect x="441.11" y="445.57" width="10.44" height="10.43" fill="#fcffa4"/>
</g>
<rect x="329.6" y="425.3" width="121.65" height="30.4" fill="none" stroke="#111" stroke-width="0.8"/>
<g stroke="#1a1a1a" stroke-width="0.8">
<line x1="334.67" y1="455.7" x2="334.67" y2="457.9" stroke-width="0.8"/>
<line x1="344.81" y1="455.7" x2="344.81" y2="457.9" stroke-width="0.8"/>
<line x1="354.94" y1="455.7" x2="354.94" y2="457.9" stroke-width="0.8"/>
<line x1="365.08" y1="455.7" x2="365.08" y2="457.9" stroke-width="0.8"/>
<line x1="375.22" y1="455.7" x2="375.22" y2="457.9" stroke-width="0.8"/>
<line x1="385.36" y1="455.7" x2="385.36" y2="457.9" stroke-width="0.8"/>
<line x1="395.49" y1="455.7" x2="395.49" y2="457.9" stroke-width="0.8"/>
<line x1="405.63" y1="455.7" x2="405.63" y2="457.9" stroke-width="0.8"/>
<line x1="415.77" y1="455.7" x2="415.77" y2="457.9" stroke-width="0.8"/>
<line x1="425.91" y1="455.7" x2="425.91" y2="457.9" stroke-width="0.8"/>
<line x1="436.04" y1="455.7" x2="436.04" y2="457.9" stroke-width="0.8"/>
<line x1="446.18" y1="455.7" x2="446.18" y2="457.9" stroke-width="0.8"/>
<line x1="327.5" y1="430.37" x2="329.6" y2="430.37" stroke-width="0.8"/>
<line x1="327.5" y1="440.5" x2="329.6" y2="440.5" stroke-width="0.8"/>
<line x1="327.5" y1="450.63" x2="329.6" y2="450.63" stroke-width="0.8"/>
</g>
<g font-size="8.2" fill="#000" text-anchor="middle">
<text stroke="none" transform="translate(334.67 465.9) scale(0.9 1)">1</text>
<text stroke="none" transform="translate(344.81 465.9) scale(0.9 1)">2</text>
<text stroke="none" transform="translate(354.94 465.9) scale(0.9 1)">3</text>
<text stroke="none" transform="translate(365.08 465.9) scale(0.9 1)">4</text>
<text stroke="none" transform="translate(375.22 465.9) scale(0.9 1)">5</text>
<text stroke="none" transform="translate(385.36 465.9) scale(0.9 1)">6</text>
<text stroke="none" transform="translate(395.49 465.9) scale(0.9 1)">7</text>
<text stroke="none" transform="translate(405.63 465.9) scale(0.9 1)">8</text>
<text stroke="none" transform="translate(415.77 465.9) scale(0.9 1)">9</text>
<text stroke="none" transform="translate(425.91 465.9) scale(0.9 1)">10</text>
<text stroke="none" transform="translate(436.04 465.9) scale(0.9 1)">11</text>
<text stroke="none" transform="translate(446.18 465.9) scale(0.9 1)">12</text>
</g>
<text stroke="none" x="391.43" y="419.9" font-size="10" fill="#111" text-anchor="middle">TFR-PR</text>
<g shape-rendering="crispEdges">
<rect x="73.3" y="487.5" width="10.44" height="10.43" fill="#fcffa4"/>
<rect x="83.44" y="487.5" width="10.44" height="10.43" fill="#050417"/>
<rect x="93.58" y="487.5" width="10.44" height="10.43" fill="#fcffa4"/>
<rect x="103.71" y="487.5" width="10.44" height="10.43" fill="#fcffa4"/>
<rect x="113.85" y="487.5" width="10.44" height="10.43" fill="#fcffa4"/>
<rect x="123.99" y="487.5" width="10.44" height="10.43" fill="#fcffa4"/>
<rect x="134.12" y="487.5" width="10.44" height="10.43" fill="#fcffa4"/>
<rect x="144.26" y="487.5" width="10.44" height="10.43" fill="#fcffa4"/>
<rect x="154.4" y="487.5" width="10.44" height="10.43" fill="#fcffa4"/>
<rect x="164.54" y="487.5" width="10.44" height="10.43" fill="#320a5e"/>
<rect x="174.68" y="487.5" width="10.44" height="10.43" fill="#fcffa4"/>
<rect x="184.81" y="487.5" width="10.44" height="10.43" fill="#fcffa4"/>
<rect x="73.3" y="497.63" width="10.44" height="10.43" fill="#61136e"/>
<rect x="83.44" y="497.63" width="10.44" height="10.43" fill="#450a69"/>
<rect x="93.58" y="497.63" width="10.44" height="10.43" fill="#c13a50"/>
<rect x="103.71" y="497.63" width="10.44" height="10.43" fill="#dd513a"/>
<rect x="113.85" y="497.63" width="10.44" height="10.43" fill="#fcffa4"/>
<rect x="123.99" y="497.63" width="10.44" height="10.43" fill="#fcffa4"/>
<rect x="134.12" y="497.63" width="10.44" height="10.43" fill="#fcffa4"/>
<rect x="144.26" y="497.63" width="10.44" height="10.43" fill="#fcffa4"/>
<rect x="154.4" y="497.63" width="10.44" height="10.43" fill="#390963"/>
<rect x="164.54" y="497.63" width="10.44" height="10.43" fill="#140b34"/>
<rect x="174.68" y="497.63" width="10.44" height="10.43" fill="#8d2369"/>
<rect x="184.81" y="497.63" width="10.44" height="10.43" fill="#d34743"/>
<rect x="73.3" y="507.77" width="10.44" height="10.43" fill="#2b0b57"/>
<rect x="83.44" y="507.77" width="10.44" height="10.43" fill="#f8850f"/>
<rect x="93.58" y="507.77" width="10.44" height="10.43" fill="#fcffa4"/>
<rect x="103.71" y="507.77" width="10.44" height="10.43" fill="#fcffa4"/>
<rect x="113.85" y="507.77" width="10.44" height="10.43" fill="#fcffa4"/>
<rect x="123.99" y="507.77" width="10.44" height="10.43" fill="#fcffa4"/>
<rect x="134.12" y="507.77" width="10.44" height="10.43" fill="#fcffa4"/>
<rect x="144.26" y="507.77" width="10.44" height="10.43" fill="#fcffa4"/>
<rect x="154.4" y="507.77" width="10.44" height="10.43" fill="#050417"/>
<rect x="164.54" y="507.77" width="10.44" height="10.43" fill="#ea632a"/>
<rect x="174.68" y="507.77" width="10.44" height="10.43" fill="#f1ef75"/>
<rect x="184.81" y="507.77" width="10.44" height="10.43" fill="#fcffa4"/>
</g>
<rect x="73.3" y="487.5" width="121.65" height="30.4" fill="none" stroke="#111" stroke-width="0.8"/>
<g stroke="#1a1a1a" stroke-width="0.8">
<line x1="78.37" y1="517.9" x2="78.37" y2="520.1" stroke-width="0.8"/>
<line x1="88.51" y1="517.9" x2="88.51" y2="520.1" stroke-width="0.8"/>
<line x1="98.64" y1="517.9" x2="98.64" y2="520.1" stroke-width="0.8"/>
<line x1="108.78" y1="517.9" x2="108.78" y2="520.1" stroke-width="0.8"/>
<line x1="118.92" y1="517.9" x2="118.92" y2="520.1" stroke-width="0.8"/>
<line x1="129.06" y1="517.9" x2="129.06" y2="520.1" stroke-width="0.8"/>
<line x1="139.19" y1="517.9" x2="139.19" y2="520.1" stroke-width="0.8"/>
<line x1="149.33" y1="517.9" x2="149.33" y2="520.1" stroke-width="0.8"/>
<line x1="159.47" y1="517.9" x2="159.47" y2="520.1" stroke-width="0.8"/>
<line x1="169.61" y1="517.9" x2="169.61" y2="520.1" stroke-width="0.8"/>
<line x1="179.74" y1="517.9" x2="179.74" y2="520.1" stroke-width="0.8"/>
<line x1="189.88" y1="517.9" x2="189.88" y2="520.1" stroke-width="0.8"/>
<line x1="71.2" y1="492.57" x2="73.3" y2="492.57" stroke-width="0.8"/>
<line x1="71.2" y1="502.7" x2="73.3" y2="502.7" stroke-width="0.8"/>
<line x1="71.2" y1="512.83" x2="73.3" y2="512.83" stroke-width="0.8"/>
</g>
<g font-size="8.2" fill="#000" text-anchor="middle">
<text stroke="none" transform="translate(78.37 528.1) scale(0.9 1)">1</text>
<text stroke="none" transform="translate(88.51 528.1) scale(0.9 1)">2</text>
<text stroke="none" transform="translate(98.64 528.1) scale(0.9 1)">3</text>
<text stroke="none" transform="translate(108.78 528.1) scale(0.9 1)">4</text>
<text stroke="none" transform="translate(118.92 528.1) scale(0.9 1)">5</text>
<text stroke="none" transform="translate(129.06 528.1) scale(0.9 1)">6</text>
<text stroke="none" transform="translate(139.19 528.1) scale(0.9 1)">7</text>
<text stroke="none" transform="translate(149.33 528.1) scale(0.9 1)">8</text>
<text stroke="none" transform="translate(159.47 528.1) scale(0.9 1)">9</text>
<text stroke="none" transform="translate(169.61 528.1) scale(0.9 1)">10</text>
<text stroke="none" transform="translate(179.74 528.1) scale(0.9 1)">11</text>
<text stroke="none" transform="translate(189.88 528.1) scale(0.9 1)">12</text>
</g>
<text stroke="none" x="135.12" y="482.1" font-size="10" fill="#111" text-anchor="middle">PR-RT</text>
<g font-size="8.6" fill="#000" text-anchor="end">
<text stroke="none" transform="translate(69.3 495.87) scale(0.88 1)">NAC</text>
<text stroke="none" transform="translate(69.3 506) scale(0.88 1)">GS</text>
<text stroke="none" transform="translate(69.3 516.13) scale(0.88 1)">Unbound</text>
</g>
<g shape-rendering="crispEdges">
<rect x="201.45" y="487.5" width="10.44" height="10.43" fill="#5a116e"/>
<rect x="211.59" y="487.5" width="10.44" height="10.43" fill="#420a68"/>
<rect x="221.72" y="487.5" width="10.44" height="10.43" fill="#b73557"/>
<rect x="231.86" y="487.5" width="10.44" height="10.43" fill="#5a116e"/>
<rect x="242" y="487.5" width="10.44" height="10.43" fill="#9a2865"/>
<rect x="252.14" y="487.5" width="10.44" height="10.43" fill="#6a176e"/>
<rect x="262.27" y="487.5" width="10.44" height="10.43" fill="#6a176e"/>
<rect x="272.41" y="487.5" width="10.44" height="10.43" fill="#5a116e"/>
<rect x="282.55" y="487.5" width="10.44" height="10.43" fill="#5d126e"/>
<rect x="292.69" y="487.5" width="10.44" height="10.43" fill="#360961"/>
<rect x="302.82" y="487.5" width="10.44" height="10.43" fill="#6a176e"/>
<rect x="312.96" y="487.5" width="10.44" height="10.43" fill="#bc3754"/>
<rect x="201.45" y="497.63" width="10.44" height="10.43" fill="#5a116e"/>
<rect x="211.59" y="497.63" width="10.44" height="10.43" fill="#420a68"/>
<rect x="221.72" y="497.63" width="10.44" height="10.43" fill="#a82e5f"/>
<rect x="231.86" y="497.63" width="10.44" height="10.43" fill="#d84c3e"/>
<rect x="242" y="497.63" width="10.44" height="10.43" fill="#ed6925"/>
<rect x="252.14" y="497.63" width="10.44" height="10.43" fill="#b73557"/>
<rect x="262.27" y="497.63" width="10.44" height="10.43" fill="#f2741c"/>
<rect x="272.41" y="497.63" width="10.44" height="10.43" fill="#c13a50"/>
<rect x="282.55" y="497.63" width="10.44" height="10.43" fill="#2b0b57"/>
<rect x="292.69" y="497.63" width="10.44" height="10.43" fill="#210c4a"/>
<rect x="302.82" y="497.63" width="10.44" height="10.43" fill="#751b6e"/>
<rect x="312.96" y="497.63" width="10.44" height="10.43" fill="#b73557"/>
<rect x="201.45" y="507.77" width="10.44" height="10.43" fill="#280b53"/>
<rect x="211.59" y="507.77" width="10.44" height="10.43" fill="#fb9906"/>
<rect x="221.72" y="507.77" width="10.44" height="10.43" fill="#fcffa4"/>
<rect x="231.86" y="507.77" width="10.44" height="10.43" fill="#fcffa4"/>
<rect x="242" y="507.77" width="10.44" height="10.43" fill="#932667"/>
<rect x="252.14" y="507.77" width="10.44" height="10.43" fill="#fcffa4"/>
<rect x="262.27" y="507.77" width="10.44" height="10.43" fill="#fcffa4"/>
<rect x="272.41" y="507.77" width="10.44" height="10.43" fill="#fcffa4"/>
<rect x="282.55" y="507.77" width="10.44" height="10.43" fill="#050417"/>
<rect x="292.69" y="507.77" width="10.44" height="10.43" fill="#d84c3e"/>
<rect x="302.82" y="507.77" width="10.44" height="10.43" fill="#fcffa4"/>
<rect x="312.96" y="507.77" width="10.44" height="10.43" fill="#fcffa4"/>
</g>
<rect x="201.45" y="487.5" width="121.65" height="30.4" fill="none" stroke="#111" stroke-width="0.8"/>
<g stroke="#1a1a1a" stroke-width="0.8">
<line x1="206.52" y1="517.9" x2="206.52" y2="520.1" stroke-width="0.8"/>
<line x1="216.66" y1="517.9" x2="216.66" y2="520.1" stroke-width="0.8"/>
<line x1="226.79" y1="517.9" x2="226.79" y2="520.1" stroke-width="0.8"/>
<line x1="236.93" y1="517.9" x2="236.93" y2="520.1" stroke-width="0.8"/>
<line x1="247.07" y1="517.9" x2="247.07" y2="520.1" stroke-width="0.8"/>
<line x1="257.21" y1="517.9" x2="257.21" y2="520.1" stroke-width="0.8"/>
<line x1="267.34" y1="517.9" x2="267.34" y2="520.1" stroke-width="0.8"/>
<line x1="277.48" y1="517.9" x2="277.48" y2="520.1" stroke-width="0.8"/>
<line x1="287.62" y1="517.9" x2="287.62" y2="520.1" stroke-width="0.8"/>
<line x1="297.76" y1="517.9" x2="297.76" y2="520.1" stroke-width="0.8"/>
<line x1="307.89" y1="517.9" x2="307.89" y2="520.1" stroke-width="0.8"/>
<line x1="318.03" y1="517.9" x2="318.03" y2="520.1" stroke-width="0.8"/>
<line x1="199.35" y1="492.57" x2="201.45" y2="492.57" stroke-width="0.8"/>
<line x1="199.35" y1="502.7" x2="201.45" y2="502.7" stroke-width="0.8"/>
<line x1="199.35" y1="512.83" x2="201.45" y2="512.83" stroke-width="0.8"/>
</g>
<g font-size="8.2" fill="#000" text-anchor="middle">
<text stroke="none" transform="translate(206.52 528.1) scale(0.9 1)">1</text>
<text stroke="none" transform="translate(216.66 528.1) scale(0.9 1)">2</text>
<text stroke="none" transform="translate(226.79 528.1) scale(0.9 1)">3</text>
<text stroke="none" transform="translate(236.93 528.1) scale(0.9 1)">4</text>
<text stroke="none" transform="translate(247.07 528.1) scale(0.9 1)">5</text>
<text stroke="none" transform="translate(257.21 528.1) scale(0.9 1)">6</text>
<text stroke="none" transform="translate(267.34 528.1) scale(0.9 1)">7</text>
<text stroke="none" transform="translate(277.48 528.1) scale(0.9 1)">8</text>
<text stroke="none" transform="translate(287.62 528.1) scale(0.9 1)">9</text>
<text stroke="none" transform="translate(297.76 528.1) scale(0.9 1)">10</text>
<text stroke="none" transform="translate(307.89 528.1) scale(0.9 1)">11</text>
<text stroke="none" transform="translate(318.03 528.1) scale(0.9 1)">12</text>
</g>
<text stroke="none" x="263.27" y="482.1" font-size="10" fill="#111" text-anchor="middle">RT-RH</text>
<g shape-rendering="crispEdges">
<rect x="329.6" y="487.5" width="10.44" height="10.43" fill="#61136e"/>
<rect x="339.74" y="487.5" width="10.44" height="10.43" fill="#320a5e"/>
<rect x="349.88" y="487.5" width="10.44" height="10.43" fill="#a82e5f"/>
<rect x="360.01" y="487.5" width="10.44" height="10.43" fill="#fcffa4"/>
<rect x="370.15" y="487.5" width="10.44" height="10.43" fill="#bf3952"/>
<rect x="380.29" y="487.5" width="10.44" height="10.43" fill="#da4e3c"/>
<rect x="390.43" y="487.5" width="10.44" height="10.43" fill="#fcffa4"/>
<rect x="400.56" y="487.5" width="10.44" height="10.43" fill="#fcffa4"/>
<rect x="410.7" y="487.5" width="10.44" height="10.43" fill="#4f0d6c"/>
<rect x="420.84" y="487.5" width="10.44" height="10.43" fill="#0c0826"/>
<rect x="430.98" y="487.5" width="10.44" height="10.43" fill="#6d186e"/>
<rect x="441.11" y="487.5" width="10.44" height="10.43" fill="#ae305c"/>
<rect x="329.6" y="497.63" width="10.44" height="10.43" fill="#61136e"/>
<rect x="339.74" y="497.63" width="10.44" height="10.43" fill="#320a5e"/>
<rect x="349.88" y="497.63" width="10.44" height="10.43" fill="#902568"/>
<rect x="360.01" y="497.63" width="10.44" height="10.43" fill="#b73557"/>
<rect x="370.15" y="497.63" width="10.44" height="10.43" fill="#8a226a"/>
<rect x="380.29" y="497.63" width="10.44" height="10.43" fill="#520e6d"/>
<rect x="390.43" y="497.63" width="10.44" height="10.43" fill="#df5337"/>
<rect x="400.56" y="497.63" width="10.44" height="10.43" fill="#c13a50"/>
<rect x="410.7" y="497.63" width="10.44" height="10.43" fill="#4f0d6c"/>
<rect x="420.84" y="497.63" width="10.44" height="10.43" fill="#210c4a"/>
<rect x="430.98" y="497.63" width="10.44" height="10.43" fill="#64156e"/>
<rect x="441.11" y="497.63" width="10.44" height="10.43" fill="#dd513a"/>
<rect x="329.6" y="507.77" width="10.44" height="10.43" fill="#280b53"/>
<rect x="339.74" y="507.77" width="10.44" height="10.43" fill="#fcffa4"/>
<rect x="349.88" y="507.77" width="10.44" height="10.43" fill="#e15635"/>
<rect x="360.01" y="507.77" width="10.44" height="10.43" fill="#fcffa4"/>
<rect x="370.15" y="507.77" width="10.44" height="10.43" fill="#902568"/>
<rect x="380.29" y="507.77" width="10.44" height="10.43" fill="#fca108"/>
<rect x="390.43" y="507.77" width="10.44" height="10.43" fill="#fcffa4"/>
<rect x="400.56" y="507.77" width="10.44" height="10.43" fill="#fcffa4"/>
<rect x="410.7" y="507.77" width="10.44" height="10.43" fill="#050417"/>
<rect x="420.84" y="507.77" width="10.44" height="10.43" fill="#da4e3c"/>
<rect x="430.98" y="507.77" width="10.44" height="10.43" fill="#da4e3c"/>
<rect x="441.11" y="507.77" width="10.44" height="10.43" fill="#fcffa4"/>
</g>
<rect x="329.6" y="487.5" width="121.65" height="30.4" fill="none" stroke="#111" stroke-width="0.8"/>
<g stroke="#1a1a1a" stroke-width="0.8">
<line x1="334.67" y1="517.9" x2="334.67" y2="520.1" stroke-width="0.8"/>
<line x1="344.81" y1="517.9" x2="344.81" y2="520.1" stroke-width="0.8"/>
<line x1="354.94" y1="517.9" x2="354.94" y2="520.1" stroke-width="0.8"/>
<line x1="365.08" y1="517.9" x2="365.08" y2="520.1" stroke-width="0.8"/>
<line x1="375.22" y1="517.9" x2="375.22" y2="520.1" stroke-width="0.8"/>
<line x1="385.36" y1="517.9" x2="385.36" y2="520.1" stroke-width="0.8"/>
<line x1="395.49" y1="517.9" x2="395.49" y2="520.1" stroke-width="0.8"/>
<line x1="405.63" y1="517.9" x2="405.63" y2="520.1" stroke-width="0.8"/>
<line x1="415.77" y1="517.9" x2="415.77" y2="520.1" stroke-width="0.8"/>
<line x1="425.91" y1="517.9" x2="425.91" y2="520.1" stroke-width="0.8"/>
<line x1="436.04" y1="517.9" x2="436.04" y2="520.1" stroke-width="0.8"/>
<line x1="446.18" y1="517.9" x2="446.18" y2="520.1" stroke-width="0.8"/>
<line x1="327.5" y1="492.57" x2="329.6" y2="492.57" stroke-width="0.8"/>
<line x1="327.5" y1="502.7" x2="329.6" y2="502.7" stroke-width="0.8"/>
<line x1="327.5" y1="512.83" x2="329.6" y2="512.83" stroke-width="0.8"/>
</g>
<g font-size="8.2" fill="#000" text-anchor="middle">
<text stroke="none" transform="translate(334.67 528.1) scale(0.9 1)">1</text>
<text stroke="none" transform="translate(344.81 528.1) scale(0.9 1)">2</text>
<text stroke="none" transform="translate(354.94 528.1) scale(0.9 1)">3</text>
<text stroke="none" transform="translate(365.08 528.1) scale(0.9 1)">4</text>
<text stroke="none" transform="translate(375.22 528.1) scale(0.9 1)">5</text>
<text stroke="none" transform="translate(385.36 528.1) scale(0.9 1)">6</text>
<text stroke="none" transform="translate(395.49 528.1) scale(0.9 1)">7</text>
<text stroke="none" transform="translate(405.63 528.1) scale(0.9 1)">8</text>
<text stroke="none" transform="translate(415.77 528.1) scale(0.9 1)">9</text>
<text stroke="none" transform="translate(425.91 528.1) scale(0.9 1)">10</text>
<text stroke="none" transform="translate(436.04 528.1) scale(0.9 1)">11</text>
<text stroke="none" transform="translate(446.18 528.1) scale(0.9 1)">12</text>
</g>
<text stroke="none" x="391.43" y="482.1" font-size="10" fill="#111" text-anchor="middle">RH-IN</text>
<text stroke="none" transform="translate(33.2 440) rotate(-90)" font-size="15.6" fill="#111" text-anchor="middle" textLength="87" lengthAdjust="spacingAndGlyphs">Conformation</text>
<text stroke="none" x="262.8" y="543.6" font-size="15.6" fill="#111" text-anchor="middle" textLength="93" lengthAdjust="spacingAndGlyphs">H-bond states</text>
<defs><linearGradient id="inf" x1="0" y1="1" x2="0" y2="0">
<stop offset="0" stop-color="#000004"/>
<stop offset="0.03" stop-color="#040312"/>
<stop offset="0.06" stop-color="#0b0724"/>
<stop offset="0.09" stop-color="#150b37"/>
<stop offset="0.12" stop-color="#210c4a"/>
<stop offset="0.16" stop-color="#2f0a5b"/>
<stop offset="0.19" stop-color="#3d0965"/>
<stop offset="0.22" stop-color="#4a0c6b"/>
<stop offset="0.25" stop-color="#57106e"/>
<stop offset="0.28" stop-color="#64156e"/>
<stop offset="0.31" stop-color="#71196e"/>
<stop offset="0.34" stop-color="#7d1e6d"/>
<stop offset="0.38" stop-color="#8a226a"/>
<stop offset="0.41" stop-color="#972766"/>
<stop offset="0.44" stop-color="#a32c61"/>
<stop offset="0.47" stop-color="#b0315b"/>
<stop offset="0.5" stop-color="#bc3754"/>
<stop offset="0.53" stop-color="#c73e4c"/>
<stop offset="0.56" stop-color="#d24644"/>
<stop offset="0.59" stop-color="#db503b"/>
<stop offset="0.62" stop-color="#e45a31"/>
<stop offset="0.66" stop-color="#eb6628"/>
<stop offset="0.69" stop-color="#f1731d"/>
<stop offset="0.72" stop-color="#f68013"/>
<stop offset="0.75" stop-color="#f98e09"/>
<stop offset="0.78" stop-color="#fb9d07"/>
<stop offset="0.81" stop-color="#fcac11"/>
<stop offset="0.84" stop-color="#fbbc21"/>
<stop offset="0.88" stop-color="#f9cb35"/>
<stop offset="0.91" stop-color="#f5db4c"/>
<stop offset="0.94" stop-color="#f2ea69"/>
<stop offset="0.97" stop-color="#f3f68a"/>
<stop offset="1" stop-color="#fcffa4"/>
</linearGradient></defs>
<rect x="474.9" y="366.7" width="8" height="147.5" fill="url(#inf)" stroke="#111" stroke-width="0.8"/>
<g font-size="10" fill="#222">
<line x1="482.9" y1="514.2" x2="485.3" y2="514.2" stroke-width="0.8" stroke="#1a1a1a"/>
<text stroke="none" transform="translate(486.9 518.3) scale(0.88 1)">0</text>
<line x1="482.9" y1="489.62" x2="485.3" y2="489.62" stroke-width="0.8" stroke="#1a1a1a"/>
<text stroke="none" transform="translate(486.9 493.72) scale(0.88 1)">1</text>
<line x1="482.9" y1="465.03" x2="485.3" y2="465.03" stroke-width="0.8" stroke="#1a1a1a"/>
<text stroke="none" transform="translate(486.9 469.13) scale(0.88 1)">2</text>
<line x1="482.9" y1="440.45" x2="485.3" y2="440.45" stroke-width="0.8" stroke="#1a1a1a"/>
<text stroke="none" transform="translate(486.9 444.55) scale(0.88 1)">3</text>
<line x1="482.9" y1="415.87" x2="485.3" y2="415.87" stroke-width="0.8" stroke="#1a1a1a"/>
<text stroke="none" transform="translate(486.9 419.97) scale(0.88 1)">4</text>
<line x1="482.9" y1="391.28" x2="485.3" y2="391.28" stroke-width="0.8" stroke="#1a1a1a"/>
<text stroke="none" transform="translate(486.9 395.38) scale(0.88 1)">5</text>
<line x1="482.9" y1="366.7" x2="485.3" y2="366.7" stroke-width="0.8" stroke="#1a1a1a"/>
<text stroke="none" transform="translate(486.9 370.8) scale(0.88 1)">6</text>
</g>
<text stroke="none" transform="translate(510.4 444.5) rotate(-90)" font-size="15" fill="#111" text-anchor="middle" textLength="86" lengthAdjust="spacingAndGlyphs">G (kcal/mol)</text>
</svg></body></html>
